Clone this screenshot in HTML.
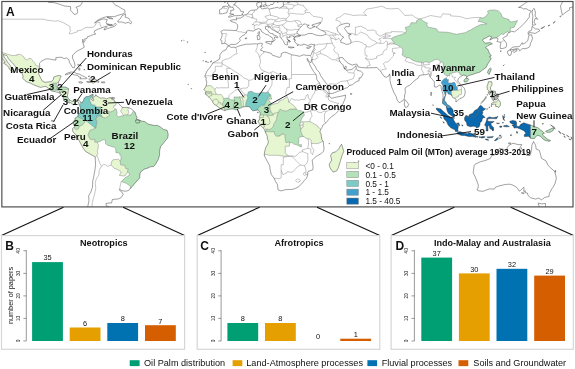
<!DOCTYPE html>
<html><head><meta charset="utf-8"><title>Oil palm figure</title>
<style>
html,body{margin:0;padding:0;background:#fff}
body{width:575px;height:369px;overflow:hidden}
svg{display:block}
text{font-family:"Liberation Sans", Arial, sans-serif;fill:#111}
</style></head><body>
<svg width="575" height="369" viewBox="0 0 575 369">
<rect width="575" height="369" fill="#fff"/>
<defs><clipPath id="mc"><rect x="1.85" y="1.5" width="571.15" height="205.4"/></clipPath></defs>
<g clip-path="url(#mc)">
<path fill="#e5f6d0" d="M-1.2 53L-0.2 55L1.5 57.7L3.5 60.1L5.2 62.2L3.5 63L6.2 64.9L8.9 67.3L9.3 69.2L11.8 71.2L13.6 72.7L14.6 71.6L12.8 69.8L11.3 67.3L9.7 64.7L7.6 62.2L6.2 59.7L4.1 57.1L3.5 54.4L6.8 55.6L8.2 58.3L10.3 61L12.4 62.8L14.4 65.3L16.5 67.7L19 70L21 72L22.5 74.5L23.1 76.5L22.5 78L24.5 80.2L27.2 82.1L30.3 83.1L33.6 84.8L37.1 86.2L40.6 87.4L43.9 86.6L45.9 86.4L48 88L50.1 89.9L50.1 89.9L50.1 88.4L51.1 86.7L53.7 86.7L51.7 84.2L52.6 84.2L52.6 83.1L56.4 83.1L56.4 83.1L57.3 82.7L58.5 81.7L58.5 81.7L59.8 80L60 78.2L61.2 76.1L59.5 75.5L56.7 75.9L53.8 77L53.2 79.8L51.3 81.7L48.4 81.9L45.1 82.3L42.4 81.1L41.2 79L39.6 75.9L38.5 73.5L38.7 69.4L39.8 66.5L39.8 66.5L35.9 65.5L35 63.2L33 61.2L31.1 58.5L28.8 58.5L27.4 60.1L24.7 58.9L23.9 56.9L20.6 54.4L17.1 54.4L17.1 55.4L11.3 55.4L3.5 52.8L-1.2 53ZM60.2 92.9L59.5 93.2L61.8 95L63.5 96.8L63.5 96.8L65.1 97L67 97.5L67.6 97.3L67.6 97.3L67.6 95L68 92.9L68.2 90.9L68.6 88.8L68.6 88.8L66.3 89.5L64.9 89.7L63.3 91.1L61.4 91.3L61.4 92.3L60.2 92.9ZM69.2 103.1L70.7 102.6L72.1 103.8L73.3 104.8L74.6 104.4L74.4 102.8L75.8 101.8L76.6 101.1L78.3 102.2L78.9 103.2L78.5 104.2L79.5 104.8L79.5 104.8L80.6 103.6L81 103L80.6 101.8L80.6 101.8L79.3 100.5L77.3 99.9L75.6 100.3L73.1 101.6L71.5 101.1L70.5 100.5L69.8 99.9L69.8 99.9L69.4 101.4L69.2 103.1ZM92.2 79.1L93.9 78.8L96 79.3L96.6 80.4L98.9 81.3L98.7 82.3L96.2 81.8L94.6 82.2L93.1 83.4L92.2 82.6L92.2 82.6L91.7 81.5L92.3 80.7L92.2 79.1ZM93.1 95.4L91.9 96.8L92.5 97.9L91.7 99.9L93.3 100.9L93.7 99.3L92.7 97.3L95.4 96L95.8 94.6L96.6 96L99.3 97.3L100.3 98.1L104 97.9L106.5 98.9L108.6 97.9L111.2 97.7L112.5 97.7L110.8 98.5L112.3 99.3L114.3 100.1L114.8 102L116.4 102.4L116.4 102.4L115.8 105.2L113.9 105.9L113.5 107.3L115 108.9L115 108.9L114.3 110.4L110.6 112L107.5 111.4L109.4 115.1L108.2 116.5L105.1 118L102.2 117.1L102.2 117.1L101.6 115.5L100.3 113.9L101.4 112.6L100.3 110.4L100.9 106.9L96.8 107.1L94.8 105.2L91.3 104.6L90.9 102.6L89.6 100.5L91.3 96.8L93.1 95.4ZM122.2 107.3L124.8 107.5L126.7 107.4L128.8 107.7L128.8 107.7L127.9 109.3L128.8 112.4L127.5 114.9L127.5 114.9L124.8 114.9L123.6 115.7L123.6 115.7L122 112.8L120.5 111.4L122 108.9L122.2 107.3ZM74.6 126.6L72.5 128.8L72.9 131.9L75.6 134.4L78.3 139.1L81 144.2L83 147.9L85.5 151.4L90.7 154.4L93.7 156.1L95.2 157.1L95.2 157.1L96.8 155.5L96.8 155.5L97.9 153.4L97.2 151.4L97.9 149.3L98.5 145.2L96.8 142.1L96.8 142.1L94.6 142.1L94.8 139.1L91.1 139.7L89.6 138.5L88 134.6L90 130.3L95.8 128.2L95.8 128.2L94.4 127.4L90.7 124.5L88.6 122.7L84.9 119.8L84.9 119.8L84.5 122.7L82.4 124.9L79.3 126.4L78.5 128.8L76.2 129.8L74.6 128.4L74.6 126.6ZM120.1 160.8L120.7 164.9L124.6 165.3L125.7 168.6L128.1 168.8L127.5 172.1L127.5 172.1L125.1 175.8L123.6 176L119.3 175.4L121.3 171.9L117.4 169.4L114.3 168.4L111 165.1L111 165.1L111.7 161.6L112.9 159.8L118.3 159.2L120.1 160.8ZM205.9 91.7L203.9 89.5L205.4 87.2L206 86.6L206 86.6L206.4 85.8L209.1 85.6L211.2 85.8L213.2 87.6L214.9 89.3L214.9 89.3L215.3 91.9L216.5 94.2L216.5 94.2L214.7 94.4L211.8 93.7L211.8 93.7L209.1 93.7L205.6 94.3L205.6 94.3L205.4 92.8L205.4 92.8L207.5 92.6L209.1 92.5L211.6 92.3L211.6 92.3L211.6 91.9L210.1 91.5L208.1 91.3L205.9 91.7ZM205.4 92.8L205.9 91.7L205.9 91.7L208.1 91.3L210.1 91.5L211.6 91.9L211.6 92.3L211.6 92.3L209.1 92.5L207.5 92.6L205.4 92.8ZM208.9 97.2L207.7 96L206.4 95L205.6 94.3L205.6 94.3L209.1 93.7L211.8 93.7L211.8 93.7L211.8 95.6L209.7 96L208.9 97.2ZM212.6 101L211.8 100.1L209.9 98.3L208.9 97.2L208.9 97.2L209.7 96L211.8 95.6L211.8 93.7L211.8 93.7L214.7 94.4L216.5 94.2L216.5 94.2L218.4 94.8L220.8 94.2L222.7 96.4L223.5 98.7L223.5 98.7L224.1 100.3L223.1 102.2L222.5 104L222.5 104L220.8 104.2L220.4 102.4L218.8 102.2L218.8 102.2L218.2 100.9L216.9 99.1L214.2 99.5L212.6 101ZM216.3 105.5L214.2 104.4L212.8 102.4L212.6 101L212.6 101L214.2 99.5L216.9 99.1L218.2 100.9L218.8 102.2L218.8 102.2L218 103.6L216.3 105.5ZM224.6 110.6L221.5 109.3L217.8 106.7L216.3 105.5L216.3 105.5L218 103.6L218.8 102.2L218.8 102.2L220.4 102.4L220.8 104.2L222.5 104L222.5 104L222.9 106.3L224.6 107.7L224.6 110.6ZM243.4 106.9L242.5 107.1L242.5 107.1L241.2 105.2L241.2 102.2L240.4 99.1L239.7 96.8L239.7 96.8L241.9 97L241.9 97L242.9 100.1L243.3 103.2L243.4 106.9ZM245.6 106.6L243.4 106.9L243.4 106.9L243.3 103.2L242.9 100.1L241.9 97L241.9 97L242.9 96.2L244.9 95.2L244.9 95.2L246 94.4L247.4 95.6L247.4 95.6L247.8 98.1L246.4 101.1L245.7 104.2L245.6 106.6ZM259.8 117.5L259.4 116.5L260.2 114.9L260.2 114.9L263.4 115.1L263.4 115.1L263.4 117.5L259.8 117.5ZM262.9 127.7L260.6 125.3L259 123.3L257.9 121L259.2 120.2L259.6 118.6L259.8 117.5L259.8 117.5L263.4 117.5L263.4 115.1L263.4 115.1L267.4 115.1L267.4 115.1L267.2 116.9L268.8 116.7L269.7 120.6L269.9 122.7L269 124.5L266.8 124.5L265.8 123.7L263.9 124.5L264.5 127L262.9 127.7ZM264.7 129.8L262.9 127.7L262.9 127.7L264.5 127L263.9 124.5L265.8 123.7L266.8 124.5L269 124.5L269.9 122.7L269.7 120.6L268.8 116.7L267.2 116.9L267.4 115.1L267.4 115.1L270.9 115.5L273.4 115.1L273.4 115.1L274 113.4L278.3 112.4L278.3 112.4L277.1 115.5L276.5 119.6L274 123.7L273 126.8L271.3 128.6L269.7 129.6L267 129.2L267 129.2L265.5 129L264.7 129.8ZM271.9 104.2L275 103.8L278.3 103L279.1 101.1L283.3 99.5L286.4 97.2L287.2 97.3L287.2 97.3L288.6 99.3L288.4 101.8L289.9 102.6L291.9 104.2L294.4 106.1L296.4 109.1L296.4 109.1L292.1 109.1L290.3 109.1L286.4 111.2L282.2 110.4L280.2 109.1L278.3 112.4L278.3 112.4L274 113.4L273.4 115.1L273.4 115.1L273 113.9L271.1 111.8L270.1 109.3L269.9 106.9L271.9 104.2ZM264.2 155L264.7 151.4L265.8 147.3L267.8 144.2L268.4 141.5L267.2 138L267.4 136.6L265.3 132L265.3 132L266.8 131.6L268.8 131.7L274.2 131.7L274.8 134.4L276.3 136.2L280 136L280.2 135L282.2 134.6L282.4 133.7L284.9 134.6L285.3 139.1L285.9 142.6L289.4 141.9L289.4 141.9L289.4 146.2L285.3 146.2L285.3 152.8L288.2 155.7L288.2 155.7L284.1 156.3L278.1 155.3L268.8 155.3L266.8 154.4L264.2 155ZM265.1 131.5L264.7 129.8L264.7 129.8L265.5 129L267 129.2L267 129.2L265.8 131.3L265.1 131.5ZM320.8 129.2L319.9 131.9L321 133.7L321.4 137L322 140.1L323.2 141.1L323.2 141.1L319.3 143L317.2 143.6L314.2 143.6L311.3 143.4L311.3 143.4L311.1 140.1L310 139.1L307.8 138.9L307.8 138.9L305.7 138L303.4 136.4L303.4 136.4L302.8 136.4L301 131.9L300.6 128.7L300.6 128.7L301.8 128.4L303.4 126.4L302.8 124.5L302.8 124.5L303.4 124.3L302.8 121.8L302.8 121.8L310 121.6L310 121.6L317.5 125.8L317.7 126.8L320.8 129.2ZM299.7 125.1L300.2 126.4L300.6 128.7L300.6 128.7L301.8 128.4L303.4 126.4L302.8 124.5L302.8 124.5L301.6 125.1L299.7 125.1ZM341.6 144.2L343.8 151.4L342 155.5L340.5 160.6L338.3 167.8L336.8 170.8L333.1 172.1L330 167.8L329.2 164.3L331.7 160.2L330.6 155.5L332.3 152.8L335.8 151.8L338.7 148.9L340.5 145.6L341.6 144.2ZM257.5 112L258.3 112L258.1 112.8L257.5 112.8L257.5 112ZM253.4 118.8L253.9 119L253.6 119.5L253.4 118.8ZM452 95.7L452.4 97L453.4 98.1L455.1 98.3L455.1 98.3L456.3 97.3L458.2 97L458.4 95.4L461.5 94.2L461.5 89.5L461.5 89.5L458.4 90.1L456.7 90.3L456.7 90.3L452.2 90.3L451.1 91.7L451.4 93.6L452 95.7ZM488.4 81.7L491.7 81.7L492.1 84.8L490.5 87.2L490.7 90.3L492.4 90.9L495.4 91.3L495.6 93.8L493.8 92.5L491.9 92.1L489.3 91.5L488.4 90.3L487.4 89.3L487 86.4L488 83.7L488.4 81.7ZM498.5 99.5L500.4 102.2L500.4 105.2L498.5 107.7L497.9 106.7L495.4 106.3L495.9 104.6L494 104L491.3 105.2L491.7 103.2L494 102L496.5 102L497.5 101.1L498.5 99.5ZM496.1 94L498.1 94L498.9 96.6L497.5 96.6L497.3 95.2L496.1 94ZM496.3 96.2L497.5 96.4L497.9 98.7L497.1 98.9L496.3 96.2ZM492.1 99.1L493.8 97.3L494.4 98.1L493.6 100.9L492.6 100.3L492.1 99.1ZM491.3 95.2L493.4 96L493.4 97L491.3 98.1L491.3 95.2ZM494.2 98.3L495.4 96.6L495.2 98.1L494.2 100.1L494.2 98.3ZM495 99.3L496.5 98.9L496.5 99.7L495.4 99.9L495 99.3ZM481.4 102.4L484.1 99.5L486 96.4L486.2 97.9L484.1 100.7L482.1 102.4L481.4 102.4ZM488 91.9L489.7 92.1L490.3 94.2L489.3 94.6L488 91.9ZM493.8 94L495.4 95L494.6 95.2L493.8 94ZM486.6 109.1L487.8 108.7L487.2 109.5L486.6 109.1ZM488.8 107.3L490.1 107.1L489.5 107.6L488.8 107.3ZM490.9 105.9L491.9 105.9L491.5 106.5L490.9 105.9ZM486.8 94.6L487.8 94.8L487.2 95.2L486.8 94.6ZM480.8 103.2L481.2 103.5L480.9 103.6L480.8 103.2ZM562.4 133.3L564.7 134.8L563.8 134.8L562.4 133.3ZM566.5 135.2L569.2 136.8L568 136.4L566.5 135.2ZM568.8 138.7L571.2 139.7L569.6 139.7L568.8 138.7ZM571 136.8L572.3 139.1L571.5 138.5L571 136.8ZM564 136L565.5 137.2L564.5 137.2L564 136Z"/>
<path fill="#b3e2b9" d="M56.4 83.1L52.6 83.1L52.6 84.2L51.7 84.2L53.7 86.7L51.1 86.7L50.1 88.4L50.1 89.9L50.1 89.9L51.9 91.1L54.4 91.4L54.4 91.4L54.8 90.7L55.9 90.1L55.9 90.1L56.2 89.1L58.3 87.4L58.3 87.4L57.5 87.4L56.9 87L56.9 87L56.2 87L56.4 83.1ZM58.3 87.4L56.2 89.1L55.9 90.1L55.9 90.1L57.7 90.9L58.7 91.1L59.3 91.3L59.1 92.3L59.1 92.3L60 92.1L60.2 92.9L60.2 92.9L61.4 92.3L61.4 91.3L63.3 91.1L64.9 89.7L66.3 89.5L68.6 88.8L68.6 88.8L67.4 88L65.7 87.1L62.8 87L59.8 87.1L58.3 87.4ZM63.5 96.8L63 98.5L64.7 99.9L65.3 99.1L67 100.3L67.8 102L68.4 102.4L69.2 103.1L69.2 103.1L69.4 101.4L69.8 99.9L69.8 99.9L68.6 98.7L67.6 97.3L67.6 97.3L67 97.5L65.1 97L63.5 96.8ZM77.7 116.5L75.2 118L75 119.6L73.3 121.6L73.3 124.3L75.2 124.7L75.4 125.1L74.6 126.6L74.6 126.6L74.6 128.4L76.2 129.8L78.5 128.8L79.3 126.4L82.4 124.9L84.5 122.7L84.9 119.8L84.9 119.8L82.4 119L80.3 118.2L77.7 116.5ZM133.5 111L134.9 112L136.2 115.7L137.2 117.3L136.2 119.2L139.9 120.2L141.1 121L144.8 121.6L148.1 124.1L150.4 124.6L154.5 125.5L157.6 125.4L160.7 127.2L163.4 129.4L167.1 130.3L168.2 134.4L167.7 138L165 141.1L163 143.8L160.7 146.2L159.7 150.3L159.5 155.5L158.2 159.6L155.7 163.9L153.7 166.5L150.4 166.8L147.3 168.2L144.2 169.2L141.1 171.5L139.9 173.9L139.7 177.8L137 180.9L134.1 184.2L132.1 186.8L130 188.7L130 188.7L130.4 186.6L128.8 185L125.7 183.1L124.6 182.7L121.3 181.5L121.3 181.5L125.1 177.8L129.2 175.4L129.4 173.3L127.5 172.1L127.5 172.1L128.1 168.8L125.7 168.6L124.6 165.3L120.7 164.9L120.1 160.8L120.1 160.8L120.9 159.6L121.1 156.5L119.9 155.1L119.7 153L116 152.8L115.6 148.3L114.3 147.3L110.6 146.2L107.5 145.2L105.5 143.6L105.5 140.1L103 139.7L98.9 142.1L96.8 142.1L96.8 142.1L94.6 142.1L94.8 139.1L91.1 139.7L89.6 138.5L88 134.6L90 130.3L95.8 128.2L95.8 128.2L97 121.9L95.8 118.6L97.2 117.5L96.2 116.1L99.9 115.9L102.2 117.1L102.2 117.1L105.1 118L108.2 116.5L109.4 115.1L107.5 111.4L110.6 112L114.3 110.4L115 108.9L115 108.9L116.4 109.3L116.6 110.6L117.2 112.4L116.6 114.9L118.5 116.9L121.5 115.9L123.6 115.7L123.6 115.7L124.8 114.9L127.5 114.9L127.5 114.9L131 115.1L133.5 111ZM233.6 109.1L231.8 108.9L227.6 109.6L224.6 110.6L224.6 110.6L224.6 107.7L222.9 106.3L222.5 104L222.5 104L223.1 102.2L224.1 100.3L223.5 98.7L223.5 98.7L226.6 98.1L228.7 98.3L228.7 98.3L230.7 99.7L234.4 100.1L234.4 100.1L234.8 102.8L233.4 105.7L234.2 108.1L233.6 109.1ZM242.5 107.1L241.4 107.8L239.6 108.3L235.9 109.9L233.6 109.1L233.6 109.1L234.2 108.1L233.4 105.7L234.8 102.8L234.4 100.1L234.4 100.1L234 97L238.6 97L239.7 96.8L239.7 96.8L240.4 99.1L241.2 102.2L241.2 105.2L242.5 107.1ZM260.2 114.9L260.2 113.2L259.6 111.6L258.3 110.4L257.5 110L257.5 110L258.3 107.7L260.2 106.3L261.6 105.2L264.3 105.2L265.8 102L267.2 99.1L268.4 97L270.1 96L269.3 94L269.3 94L270.9 94.8L271.1 97.5L271.9 99.1L268.8 99.1L268.6 99.9L271.9 104.2L271.9 104.2L269.9 106.9L270.1 109.3L271.1 111.8L273 113.9L273.4 115.1L273.4 115.1L270.9 115.5L267.4 115.1L267.4 115.1L263.4 115.1L263.4 115.1L260.2 114.9ZM265.3 132L265.1 131.5L265.1 131.5L265.8 131.3L267 129.2L267 129.2L269.7 129.6L271.3 128.6L273 126.8L274 123.7L276.5 119.6L277.1 115.5L278.3 112.4L278.3 112.4L280.2 109.1L282.2 110.4L286.4 111.2L290.3 109.1L292.1 109.1L296.4 109.1L296.4 109.1L298.5 110.8L300.8 110.4L303.4 112.4L303.4 112.4L304.5 115.1L302.8 117.1L301.6 118.6L301 120.8L301 122.5L301 122.5L300.2 123.1L299.7 125.1L299.7 125.1L300.2 126.4L300.6 128.7L300.6 128.7L301 131.9L302.8 136.4L303.4 136.4L303.4 136.4L299.5 137L298.5 138.7L298.9 140.1L298.5 143.8L299.7 145L301.4 144.6L301.4 147.1L298.7 145.8L296.6 144.8L293.6 144L292.1 142.6L290.3 143L289.4 141.9L289.4 141.9L285.9 142.6L285.3 139.1L284.9 134.6L282.4 133.7L282.2 134.6L280.2 135L280 136L276.3 136.2L274.8 134.4L274.2 131.7L268.8 131.7L266.8 131.6L265.3 132ZM462.5 75.5L463.5 75.1L466 75.5L466.6 77.8L467.6 76.1L470.3 75.1L473.8 74.1L475.9 73.3L480 72L483.1 69.6L486.2 67.3L487.2 64.9L489.3 61.6L491.3 58.3L489.3 56.9L491.3 56L489.3 53L487.8 49.3L485.6 47.8L487.8 45.6L492.4 43.8L489.9 42.5L485.1 43.3L482.7 40.5L483.1 39.2L486.2 37.8L489.3 36L491.7 36.8L489.7 40.1L493.4 38.2L496.1 37.8L496.1 37.8L499.6 35.5L501.4 33.9L503.7 34.5L504.3 33.5L507.6 31.7L509 32.7L509 32.7L510.1 31.5L510.5 27.8L514 27.4L517.5 20.6L513 21.8L509.9 21.8L509 19.6L502.7 17.5L500.6 13L498.5 11L494.4 9.9L489.3 10.3L487.2 11.6L488.6 13L485.1 17.1L482.7 18.1L480.4 17.5L480.4 17.5L478.1 21.4L481.8 22L487 23.9L480.2 24.7L474.2 27.8L470.5 30L468.7 30.8L465.2 32.7L456.3 34.3L448.1 32.3L439.8 31.9L438.4 31.9L436.5 28.8L427.5 26.9L426.8 24.7L427.5 23.2L422.9 21L420.9 18.7L420.9 18.7L419.8 18.9L419.8 18.9L416.7 20.4L416.5 22.8L411 22.8L409.5 26.3L405.2 27.4L406.4 31L405.2 33.1L405.2 33.1L401.7 34.5L398.2 35.5L394.5 36.8L392 38L391.6 38.8L391.6 38.8L392 40.5L394.5 42.7L394.3 43.3L394.3 43.3L393.7 43.8L393.7 43.8L396.1 44.4L400.3 46.8L400.3 46.8L402.7 49.3L402.7 53L402.1 55L403.4 56L406.9 57.7L406.9 57.7L409.3 57.9L413 60.4L416.7 61.8L421.5 62.4L421.5 62.4L422.9 62.2L423.1 63.6L423.1 63.6L424.8 61.8L428.1 62.2L428.7 62.6L428.7 62.6L431.6 61.6L434.7 59.7L437.8 59.3L440.4 61.6L440.4 61.6L443.3 63L443.3 66.5L441.3 68.8L441.1 70.6L443.7 72L444.4 74.3L446.4 75.5L448.4 75.4L448.4 75.4L449.7 76.1L449.5 73.7L450.4 73.6L450.4 73.6L452.8 72.9L456.9 71.8L459.8 72.9L459.8 74.5L462.5 75.5ZM463.9 80.2L465.6 78.6L468 78.4L468.7 79.6L466.6 82.1L464.1 81.7L463.9 80.2ZM490.3 67.9L491.3 68.8L490.1 72L489.1 74.5L487.4 72.4L488.8 69.4L490.3 67.9ZM530.5 124.9L533.5 126.4L537.7 127.6L540.3 129.8L543.2 131.9L544.5 133.3L542.8 133.5L542.6 135L545.5 137.6L548 139.5L550.6 140.7L549 141.3L544.9 140.3L542.8 138.9L540.8 136.4L537.7 135.4L535.6 136.6L534.6 138.5L530.5 138.3L530.5 138.3L530.5 124.9ZM545.5 131.3L549 129.8L552.1 128.2L553.7 128.4L553.1 130.5L550 132.3L546.9 132.3L545.5 131.3ZM550.6 124.9L554.2 127L555.2 129.2L554.4 128.6L552.7 126.8L550.6 124.9ZM558.7 130.9L561.2 133.1L560.5 133.7L558.7 131.7L558.7 130.9ZM542 123.7L543.6 123.7L542.8 124.1L542 123.7Z"/>
<path fill="#7bccc5" d="M80.6 101.8L81.8 103.2L83.4 100.5L84.3 98.1L85.9 96.8L88.6 96.4L91.3 94.8L93.1 94.2L93.1 95.4L93.1 95.4L91.3 96.8L89.6 100.5L90.9 102.6L91.3 104.6L94.8 105.2L96.8 107.1L100.9 106.9L100.3 110.4L101.4 112.6L100.3 113.9L101.6 115.5L102.2 117.1L102.2 117.1L99.9 115.9L96.2 116.1L97.2 117.5L95.8 118.6L97 121.9L95.8 128.2L95.8 128.2L94.4 127.4L90.7 124.5L88.6 122.7L84.9 119.8L84.9 119.8L82.4 119L80.3 118.2L77.7 116.5L77.7 116.5L78.3 114.3L81 111.8L80.6 111.4L80.3 107.3L79.5 104.8L79.5 104.8L80.6 103.6L81 103L80.6 101.8ZM257.5 110L255.4 110.4L252.6 110.8L251.1 108.9L249.3 106.7L245.6 106.6L245.6 106.6L245.7 104.2L246.4 101.1L247.8 98.1L247.4 95.6L247.4 95.6L248.2 91.9L251.3 91.1L254.4 92.9L258.5 93.4L261.6 92.3L265.8 92.7L268 91.5L268 91.5L269.3 94L269.3 94L270.1 96L268.4 97L267.2 99.1L265.8 102L264.3 105.2L261.6 105.2L260.2 106.3L258.3 107.7L257.5 110Z"/>
<path fill="#43a0cc" d="M442.9 99.1L442.5 101.1L442.5 103.4L445 105.2L446.2 106.4L446.2 106.4L448.1 107.7L449.7 107.7L450.7 106.9L450.7 106.9L449.1 105.5L447 104.6L446 102.2L444.4 100.5L444.6 98.1L445.6 95.4L446 92.1L447.9 92.1L448.1 93.8L450.5 94.6L452 95.7L452 95.7L451.4 93.6L451.1 91.7L452.2 90.3L456.7 90.3L456.7 90.3L457.3 90.1L457.5 87.6L455.9 86L455.7 83.9L454.2 82.1L451.6 82.9L450.1 82.9L448.1 82.9L448.5 79.6L447.2 79.6L446.2 77.9L446.2 77.9L443.9 79L441.5 81.7L441.3 83.1L443.1 86.2L442.3 88.4L444.1 92.5L445.2 95.4L443.5 98.3L442.9 99.1Z"/>
<path fill="#0868b0" d="M446.2 106.4L446.6 108.5L447.4 111.4L448.7 113.7L450.5 115.1L453.2 116.9L454.7 116.8L454 114.5L453 112.2L453 109.8L450.7 106.9L450.7 106.9L449.7 107.7L448.1 107.7L446.2 106.4ZM465.9 115.4L468.7 116.5L469.3 114.7L472.8 113.2L474.8 110.4L477.7 108.9L479 107.1L480.4 105.2L482.5 106.7L483.1 107.9L485.6 108.7L483.7 110.6L482.3 111L482.3 111L477.9 110.8L478.1 112.6L476.9 113.9L476.5 115.7L474.4 116.9L471.1 116.7L468.7 117.5L466.6 117.1L465.9 115.4ZM436.3 108.1L440.9 108.9L442.5 110.8L445.8 113.4L447.6 115.3L450.7 117.5L453 118.6L453.8 120.2L455.3 122.7L458.4 125.8L457.9 128.8L457.9 131.6L455.5 131.5L454.9 129.8L450.7 127.8L448.1 125.1L446.6 121.6L444.1 119L443.3 116.1L441.1 114.3L438.8 112L436.5 109.8L436.3 108.1ZM456.7 133.5L458.4 131.7L460.4 131.8L463.5 132.9L467.6 133.7L468.7 132.7L472.2 133.7L472.4 134.8L475.7 135.4L475.9 137.2L472.8 136.6L468.7 136.5L464.5 135.4L461.5 135.4L459.2 134.6L456.7 133.5ZM482.3 111L482.9 112.8L482.1 114.5L483.1 115.5L485.1 117.5L482.7 118L482.1 119.6L481.8 121.2L480 122.7L480 124.7L479 127L476.3 128L475.9 126.6L472.8 126.2L470.3 126.8L467 125.5L466.6 122.7L464.7 120.2L464.5 118L465.2 116.5L465.9 115.4L465.9 115.4L466.6 117.1L468.7 117.5L471.1 116.7L474.4 116.9L476.5 115.7L476.9 113.9L478.1 112.6L477.9 110.8L482.3 111ZM489.1 116.9L493 117.8L496.5 117.1L497.9 116.3L496.5 118.8L493.4 118.6L490.3 118.6L487.6 119L487.4 121L489.9 121.4L493.2 121.4L494.2 121.6L491.9 122.9L490.5 123.5L492.1 126.2L493.8 127.8L492.6 130.7L491.3 129L490.3 129L489.3 126.6L489.1 124.9L487.8 126.2L488 130.9L486.2 130.9L486.2 126.8L484.7 125.1L485.8 122.5L486.8 119.8L486.8 118.4L489.1 116.9ZM530.5 124.9L526.3 123.7L523.9 122.7L520.8 124.3L519.1 126.6L516.7 126.4L516.5 122.5L516 121.2L513 120.4L509.9 121.2L509.9 122.5L512.3 124.1L515 124.3L511.9 125.3L513.6 126.4L514 128L517.1 127.8L520.2 129L524.3 130.9L525.9 133.5L524.3 134.6L524.3 136.4L525.9 136.6L528.4 136.2L530.5 138.3L530.5 138.3L530.5 124.9ZM497.5 137.8L496.5 138.5L494.4 140.7L495.4 140.7L497.5 139.5L497.7 139.1ZM475.9 136.4L478.1 136.4L477.3 137.5L475.9 136.4ZM479 136.8L480.4 136.8L479.8 137.8L479 136.8ZM480.6 137L483.1 136.4L485.1 136.8L484.1 137.7L481 138L480.6 137ZM486.8 137L490.3 136.8L493.4 136.6L492.4 137.6L488.2 137.8L486.8 137ZM485.1 139.1L487.8 139.3L488.8 140.3L486.4 139.9L485.1 139.1ZM502.7 115.5L503.7 116.9L505.1 116.7L503.7 118.4L504.7 120.6L503.3 119.6L502.9 117.5L502.7 115.5ZM503.7 125.8L506.8 125.3L509.4 126.6L506.8 126.8L503.7 126.6L503.7 125.8ZM499.6 126.2L501.6 126L502 127L500 127.4L499.6 126.2ZM456.7 123.1L458.8 122.9L459.8 125.8L458.4 125.1L456.7 123.1ZM461.7 124.9L462.9 125.1L462.5 126.2L461.7 124.9ZM440 116.7L441.5 117.8L441.7 118.4L440.4 117.5L440 116.7ZM443.1 121.6L444.4 123.1L443.7 123.1L443.1 121.6ZM472.2 133.9L474.8 133.7L474.8 134.4L472.4 134.4L472.2 133.9ZM516.5 131.5L517.7 131.9L517.1 133.5L516.5 132.5L516.5 131.5ZM510.3 135L511.3 134.4L511.1 136L510.3 135ZM519.1 121.2L520.8 121.6L520.2 122.1L519.1 121.2ZM496.5 123.1L499.6 123.3L497.5 123.7L496.5 123.1ZM499.1 135.4L501.2 135.2L500.4 135.9L499.1 135.4ZM504.1 114.5L504.9 115.1L504.3 115.5L504.1 114.5ZM502.2 122.5L503.7 122.7L502.9 123.1L502.2 122.5ZM492.6 128.8L493.8 129.4L493 131.1L492.6 128.8Z"/>
<path fill="none" stroke="#6e6e6e" stroke-width=".4" stroke-linejoin="round" d="M-1.2 53L3.5 52.8L11.3 55.4L17.1 55.4L17.1 54.4L20.6 54.4L23.9 56.9L24.7 58.9L27.4 60.1L28.8 58.5L31.1 58.5L33 61.2L35 63.2L35.9 65.5L39.8 66.5M50.1 89.9L50.1 88.4L51.1 86.7L53.7 86.7L51.7 84.2L52.6 84.2L52.6 83.1L56.4 83.1M56.4 83.1L57.3 82.7L58.5 81.7M56.4 83.1L56.2 87L56.9 87M58.3 87.4L56.2 89.1L55.9 90.1M55.9 90.1L54.8 90.7L54.4 91.4M55.9 90.1L57.7 90.9L58.7 91.1L59.3 91.3L59.1 92.3M60.2 92.9L61.4 92.3L61.4 91.3L63.3 91.1L64.9 89.7L66.3 89.5L68.6 88.8M63.5 96.8L65.1 97L67 97.5L67.6 97.3M69.2 103.1L69.4 101.4L69.8 99.9M79.5 104.8L80.6 103.6L81 103L80.6 101.8M-13.4 19.2L43.9 19.2L45.1 19.8L50.1 20.6L55.4 21.2L57.9 20.6L65.3 23.5L65.9 24.4L67.8 25.1L70 26.7L70.3 31.5L69 33.5L70 34.1L77.3 31.9L77.3 30.6L81.8 30.2L82.6 29.2L86.1 27.4L92.7 27.4L95.2 25.5L95.8 23.9L97.4 22.4L99.9 22.6L100.3 25.9L101.6 26.9L102 27.8M92.2 79.1L92.3 80.7L91.7 81.5L92.2 82.6M93.1 95.4L91.3 96.8L89.6 100.5L90.9 102.6L91.3 104.6L94.8 105.2L96.8 107.1L100.9 106.9L100.3 110.4L101.4 112.6L100.3 113.9L101.6 115.5L102.2 117.1M102.2 117.1L99.9 115.9L96.2 116.1L97.2 117.5L95.8 118.6L97 121.9L95.8 128.2M95.8 128.2L94.4 127.4L90.7 124.5L88.6 122.7L84.9 119.8M84.9 119.8L82.4 119L80.3 118.2L77.7 116.5M84.9 119.8L84.5 122.7L82.4 124.9L79.3 126.4L78.5 128.8L76.2 129.8L74.6 128.4L74.6 126.6M95.8 128.2L90 130.3L88 134.6L89.6 138.5L91.1 139.7L94.8 139.1L94.6 142.1L96.8 142.1M96.8 142.1L98.5 145.2L97.9 149.3L97.2 151.4L97.9 153.4L96.8 155.5M96.8 155.5L95.2 157.1M96.8 142.1L98.9 142.1L103 139.7L105.5 140.1L105.5 143.6L107.5 145.2L110.6 146.2L114.3 147.3L115.6 148.3L116 152.8L119.7 153L119.9 155.1L121.1 156.5L120.9 159.6L120.1 160.8M120.1 160.8L118.3 159.2L112.9 159.8L111.7 161.6L111 165.1M111 165.1L107.5 166.3L105.7 164.9L103.6 164.3L101.6 166.3M101.6 166.3L99.9 163.3L98.9 160.6L98.3 158.5L96.8 155.5M120.1 160.8L120.7 164.9L124.6 165.3L125.7 168.6L128.1 168.8L127.5 172.1M127.5 172.1L125.1 175.8L123.6 176L119.3 175.4L121.3 171.9L117.4 169.4L114.3 168.4L111 165.1M127.5 172.1L129.4 173.3L129.2 175.4L125.1 177.8L121.3 181.5M121.3 181.5L124.6 182.7L125.7 183.1L128.8 185L130.4 186.6L130 188.7M121.3 181.5L120.1 186.2L119.7 189.1M101.6 166.3L99.3 169.8L98.9 174.9L96.2 179L95.2 183.1L95.8 187.9L94.8 193.4L93.3 198.5L92.1 203.6L92.1 210.8M102.2 117.1L105.1 118L108.2 116.5L109.4 115.1L107.5 111.4L110.6 112L114.3 110.4L115 108.9M115 108.9L113.5 107.3L113.9 105.9L115.8 105.2L116.4 102.4M115 108.9L116.4 109.3L116.6 110.6L117.2 112.4L116.6 114.9L118.5 116.9L121.5 115.9L123.6 115.7M123.6 115.7L122 112.8L120.5 111.4L122 108.9L122.2 107.3M123.6 115.7L124.8 114.9L127.5 114.9M127.5 114.9L128.8 112.4L127.9 109.3L128.8 107.7M127.5 114.9L131 115.1L133.5 111M235.5 47.6L236.5 49.5L236.5 52.2L237.3 53.6L233.8 54.8L232.4 56.3L228.7 58.7L225.6 59.3L222.1 60.8L222.1 62.9M222.1 62.9L212.8 62.9M222.1 62.9L222.1 63.6M222.1 63.6L222.1 66.3L215.3 66.3L215.3 71.5L213.2 72.4L213.2 75.8L204.9 75.8M222.1 63.6L230.1 68.3M230.1 68.3L226.6 68.3L228.5 85.8L228.7 87.8L220.8 87.8L218 88L216.3 87.6L214.9 89.3M214.9 89.3L213.2 87.6L211.2 85.8L209.1 85.6L206.4 85.8L206 86.6M214.9 89.3L215.3 91.9L216.5 94.2M216.5 94.2L214.7 94.4L211.8 93.7M211.8 93.7L209.1 93.7L205.6 94.3M205.9 91.7L208.1 91.3L210.1 91.5L211.6 91.9L211.6 92.3M211.6 92.3L209.1 92.5L207.5 92.6L205.4 92.8M211.8 93.7L211.8 95.6L209.7 96L208.9 97.2M216.5 94.2L218.4 94.8L220.8 94.2L222.7 96.4L223.5 98.7M212.6 101L214.2 99.5L216.9 99.1L218.2 100.9L218.8 102.2M218.8 102.2L220.4 102.4L220.8 104.2L222.5 104M222.5 104L223.1 102.2L224.1 100.3L223.5 98.7M218.8 102.2L218 103.6L216.3 105.5M222.5 104L222.9 106.3L224.6 107.7L224.6 110.6M223.5 98.7L226.6 98.1L228.7 98.3M228.7 98.3L230.7 99.7L234.4 100.1M234.4 100.1L234.8 102.8L233.4 105.7L234.2 108.1L233.6 109.1M234.4 100.1L234 97L238.6 97L239.7 96.8M239.7 96.8L240.4 99.1L241.2 102.2L241.2 105.2L242.5 107.1M239.7 96.8L241.9 97M241.9 97L242.9 100.1L243.3 103.2L243.4 106.9M241.9 97L242.9 96.2L244.9 95.2M244.9 95.2L246 94.4L247.4 95.6M247.4 95.6L247.8 98.1L246.4 101.1L245.7 104.2L245.6 106.6M247.4 95.6L248.2 91.9L251.3 91.1L254.4 92.9L258.5 93.4L261.6 92.3L265.8 92.7L268 91.5M268 91.5L269.3 94M269.3 94L270.1 96L268.4 97L267.2 99.1L265.8 102L264.3 105.2L261.6 105.2L260.2 106.3L258.3 107.7L257.5 110M269.3 94L270.9 94.8L271.1 97.5L271.9 99.1L268.8 99.1L268.6 99.9L271.9 104.2M271.9 104.2L269.9 106.9L270.1 109.3L271.1 111.8L273 113.9L273.4 115.1M273.4 115.1L270.9 115.5L267.4 115.1M267.4 115.1L263.4 115.1M263.4 115.1L260.2 114.9M263.4 115.1L263.4 117.5L259.8 117.5M267.4 115.1L267.2 116.9L268.8 116.7L269.7 120.6L269.9 122.7L269 124.5L266.8 124.5L265.8 123.7L263.9 124.5L264.5 127L262.9 127.7M273.4 115.1L274 113.4L278.3 112.4M278.3 112.4L277.1 115.5L276.5 119.6L274 123.7L273 126.8L271.3 128.6L269.7 129.6L267 129.2M267 129.2L265.5 129L264.7 129.8M267 129.2L265.8 131.3L265.1 131.5M271.9 104.2L275 103.8L278.3 103L279.1 101.1L283.3 99.5L286.4 97.2L287.2 97.3M287.2 97.3L288.6 99.3L288.4 101.8L289.9 102.6L291.9 104.2L294.4 106.1L296.4 109.1M296.4 109.1L292.1 109.1L290.3 109.1L286.4 111.2L282.2 110.4L280.2 109.1L278.3 112.4M296.4 109.1L298.5 110.8L300.8 110.4L303.4 112.4M303.4 112.4L304.5 115.1L302.8 117.1L301.6 118.6L301 120.8L301 122.5M301 122.5L300.2 123.1L299.7 125.1M299.7 125.1L300.2 126.4L300.6 128.7M300.6 128.7L301 131.9L302.8 136.4L303.4 136.4M303.4 136.4L299.5 137L298.5 138.7L298.9 140.1L298.5 143.8L299.7 145L301.4 144.6L301.4 147.1L298.7 145.8L296.6 144.8L293.6 144L292.1 142.6L290.3 143L289.4 141.9M289.4 141.9L285.9 142.6L285.3 139.1L284.9 134.6L282.4 133.7L282.2 134.6L280.2 135L280 136L276.3 136.2L274.8 134.4L274.2 131.7L268.8 131.7L266.8 131.6L265.3 132M289.4 141.9L289.4 146.2L285.3 146.2L285.3 152.8L288.2 155.7M288.2 155.7L284.1 156.3L278.1 155.3L268.8 155.3L266.8 154.4L264.2 155M288.2 155.7L292.1 156.1M292.1 156.1L290.5 156.5L288 156.5L283.3 157.1L283.3 164.7L281.2 164.7L281.2 170.4M281.2 170.4L281.2 177.8L279.1 178.8L276.1 178.4L274 178.2M281.2 170.4L282.8 174.5L286.4 173.3L287.4 171.5L290.5 172.3L292.5 172.1L295.2 169.4L297.5 166.8L300.6 165.1M300.6 165.1L297.1 161.6L294 158.5L292.1 156.1M292.1 156.1L295.6 156.3L299.5 152.4L302.6 151.6M302.6 151.6L302.2 149.9L308.4 148.3M308.4 148.3L307.8 147.3L308.4 145.2L308.6 141.7L307.8 138.9M307.8 138.9L305.7 138L303.4 136.4M307.8 138.9L310 139.1L311.1 140.1L311.3 143.4M311.3 143.4L314.2 143.6L317.2 143.6L319.3 143L323.2 141.1M311.3 143.4L311.9 147.3L314 150.1L312.7 153.8L312.7 154.7L310.7 152.4L310.9 149.1L308.4 148.3M302.6 151.6L304.5 152.4L308 153.8L307.6 156.5L308 160.2L306.9 163.3L304.5 165.5M304.5 165.5L300.6 165.1M304.5 165.5L305.9 169.8L305.8 172.8M305.8 172.8L306.1 174.6L304.5 175.6L303.4 174.3L303.9 172.7L305.8 172.8M306.1 174.6L307.8 174.6M295.6 180.3L297.7 178.8L300.4 180.1L299.9 181.7L297.9 182.3L296.4 181.5L295.6 180.3M320.8 129.2L317.7 126.8L317.5 125.8L310 121.6M310 121.6L302.8 121.8M302.8 121.8L303.4 124.3L302.8 124.5M302.8 124.5L303.4 126.4L301.8 128.4L300.6 128.7M302.8 124.5L301.6 125.1L299.7 125.1M301 122.5L302.8 121.8M310 121.6L310 119.2L311.1 117.5L312.1 116.1L310.9 112.2L310 111M310 111L308 111.8L305.9 112.2L303.4 112.4M310 111L314 110.2M314 110.2L316 110.6L318.5 112.2L321.4 112.6L324 111L326.3 111.5M326.3 111.5L324.5 113.9L324.5 119.6L324.5 121.4L325.7 123.1M326.3 111.5L328.6 110.2L332.7 109.3L338.9 103.2L336.8 103.2L330.6 101.1L328.6 99.9L328.2 97M328.2 97L329.1 96.1M328.2 97L326.1 97L326.1 95.6L327.3 94.1M327.3 94.1L328.8 93.6M327.3 94.1L324.5 91.9L322.4 89.9L320.3 89.7L318.1 89.3L317.2 90.5L315.2 90.3M315.2 90.3L315.2 88.4L316.2 84.8L319.3 82.7M315.2 90.3L314.4 93.6L312.3 95.4L311.9 97.5L310.2 100.1M310.2 100.1L310 102.2L308 103.2L309 103.8L311.1 105.5L312.7 108.5L314 110.2M310.2 100.1L308.4 98.1L308.2 94.6L306.7 95L305.9 97L304.9 99.5L300.8 99.5L299.3 100.3L297.5 99.9L294.8 100.1L291.5 98.5L289.4 101.8L288.4 101.8M287.2 97.3L285.7 93.6L285.9 91.9L286.4 90.7L287.2 87.6L289.4 87.4L289.4 79.6M289.4 79.6L289.4 78.6L291.5 78.6L291.5 74.5M291.5 74.5L316 74.5M291.5 74.5L291.5 59.7L290.9 57.7L291.7 54.8M289.4 79.6L273 71.5L270.9 72.4M270.9 72.4L269.3 73.3L264.7 71.4M264.7 71.4L261.2 69.4L259.4 65.9L260.4 62.6L260.4 60.1L259.6 57.7M259.6 57.7L261.2 54.6L263.7 53L263.7 51.6M259.6 57.7L258.5 53.8L255.7 51.3L257.1 47.4L257.7 44M264.7 71.4L255.4 77L251.9 79.8L248.8 80.3M248.8 80.3L246.8 79L243.7 78L242.4 76.3L230.1 68.3M248.8 80.3L248.7 85.8L247.2 88L242.9 88.2L240.4 88.8M240.4 88.8L237.9 89.3L234.8 90.5L233.2 92.3L230.9 93.6L229.1 95.4L228.7 98.3M240.4 88.8L241.9 91.7L244.3 93.6L244.9 95.2M270.9 72.4L271.9 76.5L272.1 81.7L271.9 85L268 91.5M227.2 8.7L225 8.7L223.3 7.9L225 6.9M224.8 43.3L224.6 41.7L225.6 41.3L225 38.6L225.8 37.2L226 35.5L227.2 34.3L226.4 33.6L223.1 33.7L221.9 33.7M236.3 30.6L238.6 31.7L241.4 31.9L243.5 32.5L246.6 32.7M245.3 14.8L246.6 16.1L248.7 16.7L249.9 17.1L251.9 18M251.9 18L253.2 18.1M253.2 18.1L255.4 18.9L256.9 19.2L255.7 22M255.7 22L254.4 22.4L252.6 24.1L252.4 24.9L254 24.5L254.4 25.5M254.4 25.5L254.2 27.1L254.4 28.8L255.4 29.8M254.4 25.5L257.3 24.5L258.5 25.5L259.6 24.5L261.5 23.6M261.5 23.6L259.8 23L259.8 22.2M259.8 22.2L257.7 21.8L255.7 22M259.8 22.2L261.6 22.4L265.1 22L266.8 22.2L266.6 20.8L268.4 19.7M261.5 23.6L265.1 23.2L265.5 23.9L268.2 24.3M268.2 24.3L270.9 24.1L273.2 23.6M273.2 23.6L274 22.4L275.2 21.2M275.2 21.2L274.9 20M274.9 20L270.9 19.2L268.4 19.7M268.4 19.7L265.8 17.7L264.9 16.5L269.5 15L270.5 15.4M270.5 15.4L270.3 13L269.3 11L269.3 9.1M258.1 7.1L260.4 7.3M254.4 10.1L254.4 12L252.4 13.4L252.4 15.6M252.4 15.6L252.8 16.9L253.2 18.1M247 14.2L249.3 14.1L251.9 14.7L252.4 15.6M251.9 18L252.2 16.9L252.8 16.9M270.5 15.4L273.6 15.9L274.8 16.5L276.5 16.5L278.8 18.1M278.8 18.1L280.8 18.7L283.1 18.4L286.5 18.9M286.5 18.9L286.8 17.9L289.4 15.9L288.6 14M288.6 14L287.8 12.4L289.2 11.6L288.4 9M288.4 9L287 8.2M287 8.2L280.4 8M287 8.2L286.8 7L283.9 6.3L283.3 6.2M288.4 9L292.5 8.5L293.1 7.1L294.8 5.5M294.8 5.5L291.5 4.4L287.2 4L283.4 4.7M294.8 5.5L298.1 4.5M290.3 0.9L292.1 0.7L294.6 1.7L296.3 1.7M288.6 14L291.5 13.2L296.6 14L299.7 14L302.8 14.4L305.5 12.8M274.9 20L277.1 19.2L278.8 18.1M275.2 21.2L278.7 21.6L281.2 20.8L284.3 20.2L285.6 20.4M285.6 20.4L286.5 18.9M285.6 20.4L287.2 21.2M287.2 21.2L284.3 23.9L281.8 25M281.8 25L278.9 25.5M278.9 25.5L276.1 25.5L274 24.3L273.2 23.6M274 24.3L272.1 24.9L271.5 26.3L269.9 26.3L268 26.3M268.2 24.3L267.8 25.3L268.2 25.9M278.9 25.5L279.3 26.9L279.1 27.6M279.1 27.6L275 26.9L272.5 26.9L272.5 28L273.6 29.4L275.6 30.8L276.3 31.6L278 32.4M279.1 27.6L280 28.8L279.6 30.4M279.6 30.4L278.5 31L278 32.5M279.6 30.4L281.8 31.8L281.4 32.3M281.4 32.3L280 33.8M281.4 32.3L282.4 33.7M282.4 33.7L284.5 33L286.1 32.9M286.1 32.9L287.4 31L286.1 29.4L286.8 29M286.8 29L284.1 27.8L284.3 26.9L281.8 25M286.8 29L287.4 29.8L292.5 30.1L295.6 29.2L298.9 29.9M287.2 21.2L291.3 21.7L294.8 20.7M294.8 20.7L297.9 24.3L298.1 26.4M298.1 26.4L301 26.9M294.8 20.7L297.7 20.4L300.2 21.4L301.8 24.5L299.5 24.5L298.1 26.4M282.4 33.7L282.2 34.9L283.3 35.9M283.3 35.9L282.6 37L281.2 38.2M283.3 35.9L287.3 34.8M287.3 34.8L286.1 32.9M287.3 34.8L290.5 34.5L294.3 34.1M294.3 34.1L294.8 34.9L293.6 36M294.3 34.1L296.6 33.5L297.7 33.5M318.7 23L322 21.4L322.4 17.9L318.3 17.1L313.1 16.3L310.5 13.6L309.6 12.3L305.5 12.8M305.5 12.8L304.9 10.5L307.4 9.9L303.9 6.9L303.7 5.6L298.1 4.5M298.1 4.5L297.1 2.1L296.3 1.7M296.3 1.7L296.6 -0.3L297.7 -2.4M322.4 30.6L327.6 31L330.6 32.3L335.6 33.7M335.6 33.7L338.5 35.1L339.9 33.9M341.4 24.5L339.9 21.6L336.8 20.2L335.8 20.2L336.8 18.1L339.9 17.1L344.6 13.6L350.2 14.6L353.3 15.5L360.5 15L366.7 15.5L363.6 13L366.7 9.1L373.9 7.9L382.1 6.2L386.3 8.5L391.4 8.9L398 8.3L400.5 10.5L404.8 15.5L412 15L416.1 17.9L419.8 18.9M420.9 18.7L424.8 17.5L430.6 15.5L440.9 17.3L442.5 13.8L450.5 14.4L450.7 15.9L459.8 16.5L466.6 18.7L472.8 17.7L480.4 17.5M325.5 34.5L329.6 35.3M329.6 35.3L330 37.4L332.3 38.2M332.3 38.2L330.6 38.8L331.5 41.1L332.3 43.3M332.3 43.3L327.3 43.5M327.3 43.5L322.4 44.2L318.3 44.2L315.6 45.2L314.6 46.1L314 46M329.6 35.3L332.7 34.9M332.7 34.9L336 35.3L335.6 33.7M332.7 34.9L333.9 36.8L335.8 38.6L335.8 39.9M332.3 38.2L335.8 39.9L338.9 38.2L339.5 39.7L340.7 40.9M332.3 43.3L333.5 45.8L335.2 47.4L333.7 49.3L334.8 52L338.3 54L338.3 56L339.9 58.2M327.3 43.5L324.9 48.3L319.9 51.1M319.9 51.1L320.8 53.6M320.8 53.6L326.5 55.8L332.1 59.7L335.8 59.9M335.8 59.9L337.6 57.9L338.9 58.3M335.8 59.9L338.3 61.2L339.9 61.4M319.9 51.1L315.8 53.4L313.7 52.6M314 48.6L315.4 49.5L313.7 51.3M312.3 51.7L313.7 51.3L313.7 52.6M313.7 52.6L313.2 54L313.1 55.6L312.1 59M311.9 59.1L310.5 55.4M312.1 59.4L314.4 59.7L317.2 58.1L318.3 57.1L316.2 55L320.8 53.6M328.2 86L329.2 83.9L331.7 83.9L336.2 84.3L340.9 81.5L347.1 80.7M347.1 80.7L353.3 78.6L354.7 74.5L353.7 73.1M353.7 73.1L348.4 72.6L346.3 70.2M353.7 73.1L354.9 70L356.2 68.6M349.4 85.5L347.1 80.7M500.8 42.3L502.7 41.1L504.5 40.5M351 43L354.3 41.5L358 41.3L362.2 42.7L364.6 44.6L366.1 44.6L366.1 46.6M366.1 46.6L364.8 49.3L365.2 55L367.3 55.8L365.4 58.4M365.4 58.4L369.4 61.8L369.4 63.8L370.4 65.1L367.5 65.9L366.9 67.9M365.4 58.4L368.8 59.3L371.8 59.3L376.6 58.3L376.6 56.3L379.7 55.2L382.8 54.2L383.2 52L384.2 50.5L386.3 49.7L387.5 46.4L386.7 45.4L389.4 44.2L393.7 43.8M366.1 46.6L369.8 47L372.9 45.2L377 43M377 43L379.7 43.3M379.7 43.3L382.8 43.5L384.6 42.5L386.1 40.9L387.5 41.9L387.3 44.4L391 42.8L394.3 43.3M394.3 43.3L393.7 43.8M377 43L376 41.7L371.8 39.8L368.8 37.6L367.5 35.1L363.6 33.1L360.5 32.1L357.4 34.9L355.4 34.9M355.4 34.9L352.7 33.5L347.9 33.3M355.4 34.9L355.4 27.4L360.7 26.1L365.7 28.6L367.7 30.4L373.7 30L376.2 31.5L376 33.5L380.1 36.2L385.2 33.5L386.3 33M386.3 33L391.4 32.7L391.4 31.5L395.9 31.7L402.7 31.9L405.2 33.1M386.3 33L385.2 34.5L388.3 35.1L390.6 36L388.3 36.8L385.2 37.2M385.2 37.2L383.2 38.4L387.3 38.4L391.6 38.8M385.2 37.2L385.6 35.5L382.1 37.2L381.1 38.6L378.8 39L380.9 41.3L379.7 43.3M380.5 71L381.7 69.8L386.5 69L384.6 66.9L384.4 65.3L383.2 63.8L385.2 62.2L388.3 61.8L390.4 59.1L393.5 56L393.5 53L395.3 53.4L392.4 52L392.4 48.5L398.6 47.8L400.3 46.8M406.9 57.7L405 60.6L408.9 62.4L413 63.2L416.7 65.1L421.5 65.5L421.5 62.4M423.1 63.6L423.3 64.9L429.5 64.6L428.7 62.6M423.3 74.9L423.1 72L421.5 69.4L422.1 65.7L425 66.5L425 67.7L430.3 68.1L429.9 70L427.9 70.4L428.1 72.2L430.1 71L430.8 74.3L430.8 75.9M430.8 75.9L430.1 77M430.8 75.9L432.2 70.4L435.1 67.9L436.1 65.1L440 64L440.4 61.6M448.4 75.4L446.2 77.9M446.2 77.9L443.9 79L441.5 81.7L441.3 83.1L443.1 86.2L442.3 88.4L444.1 92.5L445.2 95.4L443.5 98.3L442.9 99.1M446.2 77.9L447.2 79.6L448.5 79.6L448.1 82.9L450.1 82.9L451.6 82.9L454.2 82.1L455.7 83.9L455.9 86L457.5 87.6L457.3 90.1L456.7 90.3M456.7 90.3L452.2 90.3L451.1 91.7L451.4 93.6L452 95.7M456.7 90.3L458.4 90.1L461.5 89.5M461.5 89.5L461.5 94.2L458.4 95.4L458.2 97L456.3 97.3L455.1 98.3M450.4 73.6L452.2 75.5L452.2 77L455.5 77.4L454.2 79.2L456.3 81.3L457.5 82.9L459.6 85L461.2 86.8L461.5 89.5M446.2 106.4L448.1 107.7L449.7 107.7L450.7 106.9M496.1 37.8L499.6 35.5L501.4 33.9L503.7 34.5L504.3 33.5L507.6 31.7L509 32.7M509 32.7L510.1 31.5L510.5 27.8L514 27.4L517.5 20.6L513 21.8L509.9 21.8L509 19.6L502.7 17.5L500.6 13L498.5 11L494.4 9.9L489.3 10.3L487.2 11.6L488.6 13L485.1 17.1L482.7 18.1L480.4 17.5M480.4 17.5L478.1 21.4L481.8 22L487 23.9L480.2 24.7L474.2 27.8L470.5 30L468.7 30.8L465.2 32.7L456.3 34.3L448.1 32.3L439.8 31.9L438.4 31.9L436.5 28.8L427.5 26.9L426.8 24.7L427.5 23.2L422.9 21L420.9 18.7M420.9 18.7L419.8 18.9M419.8 18.9L416.7 20.4L416.5 22.8L411 22.8L409.5 26.3L405.2 27.4L406.4 31L405.2 33.1M405.2 33.1L401.7 34.5L398.2 35.5L394.5 36.8L392 38L391.6 38.8M391.6 38.8L392 40.5L394.5 42.7L394.3 43.3M393.7 43.8L396.1 44.4L400.3 46.8M400.3 46.8L402.7 49.3L402.7 53L402.1 55L403.4 56L406.9 57.7M406.9 57.7L409.3 57.9L413 60.4L416.7 61.8L421.5 62.4M421.5 62.4L422.9 62.2L423.1 63.6M423.1 63.6L424.8 61.8L428.1 62.2L428.7 62.6M428.7 62.6L431.6 61.6L434.7 59.7L437.8 59.3L440.4 61.6M440.4 61.6L443.3 63L443.3 66.5L441.3 68.8L441.1 70.6L443.7 72L444.4 74.3L446.4 75.5L448.4 75.4M448.4 75.4L449.7 76.1L449.5 73.7L450.4 73.6M450.4 73.6L452.8 72.9L456.9 71.8L459.8 72.9L459.8 74.5L462.5 75.5M465.9 115.4L466.6 117.1L468.7 117.5L471.1 116.7L474.4 116.9L476.5 115.7L476.9 113.9L478.1 112.6L477.9 110.8L482.3 111M530.5 124.9L530.5 138.3M497.5 137.8L497.7 139.1"/>
<path fill="none" stroke="#303030" stroke-width=".45" stroke-linejoin="round" d="M-1.2 53L-0.2 55L1.5 57.7L3.5 60.1L5.2 62.2L3.5 63L6.2 64.9L8.9 67.3L9.3 69.2L11.8 71.2L13.6 72.7L14.6 71.6L12.8 69.8L11.3 67.3L9.7 64.7L7.6 62.2L6.2 59.7L4.1 57.1L3.5 54.4L6.8 55.6L8.2 58.3L10.3 61L12.4 62.8L14.4 65.3L16.5 67.7L19 70L21 72L22.5 74.5L23.1 76.5L22.5 78L24.5 80.2L27.2 82.1L30.3 83.1L33.6 84.8L37.1 86.2L40.6 87.4L43.9 86.6L45.9 86.4L48 88L50.1 89.9M39.8 66.5L38.7 69.4L38.5 73.5L39.6 75.9L41.2 79L42.4 81.1L45.1 82.3L48.4 81.9L51.3 81.7L53.2 79.8L53.8 77L56.7 75.9L59.5 75.5L61.2 76.1L60 78.2L59.8 80L58.5 81.7M58.5 81.7L58.3 83.7L58.1 85.6L56.9 87M56.9 87L57.5 87.4L58.3 87.4M50.1 89.9L51.9 91.1L54.4 91.4M54.4 91.4L56.7 92.1L58.7 92.6L59.1 92.3M59.1 92.3L60 92.1L60.2 92.9M68.6 88.8L67.4 88L65.7 87.1L62.8 87L59.8 87.1L58.3 87.4M60.2 92.9L59.5 93.2L61.8 95L63.5 96.8M67.6 97.3L67.6 95L68 92.9L68.2 90.9L68.6 88.8M63.5 96.8L63 98.5L64.7 99.9L65.3 99.1L67 100.3L67.8 102L68.4 102.4L69.2 103.1M69.8 99.9L68.6 98.7L67.6 97.3M69.2 103.1L70.7 102.6L72.1 103.8L73.3 104.8L74.6 104.4L74.4 102.8L75.8 101.8L76.6 101.1L78.3 102.2L78.9 103.2L78.5 104.2L79.5 104.8M80.6 101.8L79.3 100.5L77.3 99.9L75.6 100.3L73.1 101.6L71.5 101.1L70.5 100.5L69.8 99.9M39.8 66.5L39.4 63.6L41 61.4L43.9 59.9L45.9 58.9L48.8 58.9L51.9 59.5L54 59.9L56 60.1L55.8 57.7L58.7 57.3L61.8 57.3L64.1 58.7L66.5 57.9L68.8 59.7L69.6 62.6L71.1 65.1L72.5 67.5L74.2 67.9L75 65.3L74 61.4L72.5 58.1L72.7 55L75 52.8L77.3 50.9L79.5 49.9L82.2 48.5L84.3 47.2L83.4 44.2L82.6 42.1L82.8 39.2L83.6 42.5L85.1 41.1L84.7 38.8L86.9 38.6L87.6 36.6L90.4 35.8L93.3 34.5L95.8 34.1L94.4 32.7L94.6 30.8L97.4 29.4L102 27.8M102 27.8L104 26.9L106.5 26.1L107.3 26.9L104.5 28.4L104 30L107.5 28.6L111.2 27.4L114.3 26.5L116.4 24.5L115.2 23.2L113.1 25.7L110.2 25.7L107.1 24.7L106.1 22.2L107.3 19.6L103.4 18.9L98.9 20.4L94.6 23.2L96.6 20.8L101.4 18.3L107.1 16.5L114.3 16.7L118.9 15L122.6 14L125.1 12.4L124.6 9.9L121.5 8.5L118.5 6.4L115.4 5.2L112.9 2.3L111.7 -0.3L110.2 -2.4M44.3 -3.4L45.1 -0.9L48.8 2.5L53.6 2.5L58.7 4L64.5 6L70.5 6.6L70.7 10.5L73.1 13L74.2 14.4L76.6 14L77.7 12.4L77.3 8.9L76 7.3L80.3 5.6L82.2 2.8L80.3 -0.3L79.3 -3.4M117.8 22L121.5 22L125.5 23.2L128.8 22.2L130.6 24.1L131.6 22.2L129.8 20.2L128.8 18.3L125.1 17.1L125.7 13.8L122 15.7L120.5 18.5L117.8 20.8L117.8 22M107.1 17.3L111.2 17.9L112.9 18.9L109.2 18.5L107.1 17.3M107.3 23.9L110.2 24.5L112.3 24.5L111 25.3L108.6 24.7L107.3 23.9M65.1 74.7L66.5 73.5L69 72.6L71.1 72L74.2 72.3L76.6 73.5L79.3 74.1L81.4 75.3L84.1 76.5L87.1 78.2L85.5 78.8L82.4 78.7L79.9 78.9L81 77.4L78.7 77L77.7 75.3L74.4 74.9L71.5 74.1L70.7 73.3L68.2 74.1L66.5 74.7L65.1 74.7M92.2 82.6L90.7 82.3L88 82.5L86.6 81.9L86.9 81.4L90.4 81.7L90.2 80.4L88.8 79.2L90 78.7L92.2 79.1M92.2 79.1L93.9 78.8L96 79.3L96.6 80.4L98.9 81.3L98.7 82.3L96.2 81.8L94.6 82.2L93.1 83.4L92.2 82.6M78.6 82.1L80.3 81.7L82.8 82.5L81.8 83L79.9 83L78.6 82.1M101.5 81.9L104.7 81.9L104.7 82.7L101.6 82.8L101.5 81.9M112.5 97.7L114.3 97.5L114.3 98.9L112.5 98.9L112.5 97.7M78.9 68.1L79.9 68.1L79.9 70.2L78.7 69.8L78.9 68.1M80.1 64.5L81.4 65.3L81.2 66.3L80.6 65.9L80.1 64.5M77.5 64.9L79.5 64.8L78.3 65.3L77.5 64.9M88.2 76.3L89.6 75.9L89.2 76.7L88.2 76.3M83.9 69L84.9 70.2L84.5 70L83.9 69M80.6 101.8L81.8 103.2L83.4 100.5L84.3 98.1L85.9 96.8L88.6 96.4L91.3 94.8L93.1 94.2L93.1 95.4M93.1 95.4L91.9 96.8L92.5 97.9L91.7 99.9L93.3 100.9L93.7 99.3L92.7 97.3L95.4 96L95.8 94.6L96.6 96L99.3 97.3L100.3 98.1L104 97.9L106.5 98.9L108.6 97.9L111.2 97.7L112.5 97.7L110.8 98.5L112.3 99.3L114.3 100.1L114.8 102L116.4 102.4M116.4 102.4L118.5 103.2L120.5 105.7L122.2 107.3M122.2 107.3L124.8 107.5L126.7 107.4L128.8 107.7M128.8 107.7L131 108.7L132.9 110.2L133.5 111M133.5 111L134.9 112L136.2 115.7L137.2 117.3L136.2 119.2L139.9 120.2L141.1 121L144.8 121.6L148.1 124.1L150.4 124.6L154.5 125.5L157.6 125.4L160.7 127.2L163.4 129.4L167.1 130.3L168.2 134.4L167.7 138L165 141.1L163 143.8L160.7 146.2L159.7 150.3L159.5 155.5L158.2 159.6L155.7 163.9L153.7 166.5L150.4 166.8L147.3 168.2L144.2 169.2L141.1 171.5L139.9 173.9L139.7 177.8L137 180.9L134.1 184.2L132.1 186.8L130 188.7M130 188.7L128.8 190.3L126.7 191.1L124 191.1L120.9 190.2L119.7 189.1M119.7 189.1L119.5 190.3L122 192.2L123.2 194.4L121.3 197.5L118.5 198.9L112.3 199.5L111.7 202.8L106.1 203.4L106.1 205.7L108.8 206.7L106.5 208.2L105.5 210.8M95.2 157.1L95.4 160.6L95.6 164.7L94.8 170.8L93.7 177L92.7 181.1L92.5 187.2L90.7 192.4L88.6 195.9L89 200.6L88 205.3L87.6 210.8M74.6 126.6L72.5 128.8L72.9 131.9L75.6 134.4L78.3 139.1L81 144.2L83 147.9L85.5 151.4L90.7 154.4L93.7 156.1L95.2 157.1M77.7 116.5L75.2 118L75 119.6L73.3 121.6L73.3 124.3L75.2 124.7L75.4 125.1L74.6 126.6M79.5 104.8L80.3 107.3L80.6 111.4L81 111.8L78.3 114.3L77.7 116.5M135.8 120L138 120L140.1 120.6L139.5 122.7L136.4 123.1L135.4 121.2L135.8 120M51.5 120.2L52.5 120.4L52.1 121.6L51.5 120.2M53.6 120.6L54.2 120.8L53.8 121.2L53.6 120.6M227.8 46.2L229.1 46L231.1 47.4L233.8 47.2L235.5 47.6M235.5 47.6L237.9 46.4L241 45.4L246.2 44.2L250.3 44.2L254.4 43.8L257.7 44M257.7 44L260.2 43.1L261.2 43.3L262.7 43.8L261.8 45L261.6 46.2L262.7 47.4L261 49.3L260.6 50.3L262.7 50.9L263.7 51.6M263.7 51.6L267.2 52.2L271.3 53.4L272.3 55.2L276.1 56.3L279.1 57.5L281.2 56.3L281.2 53.6L284.3 52.2L287.4 52.8L291.7 54.8M291.7 54.8L295.6 55.4L299.7 56.3L302.4 55.2L303.9 54.8L306.5 55.4L310.5 55.4M311.9 59.1L310.9 62.2L310.5 62.8L309 61.2L307.2 58.3L307.2 60.1L309 62.6L310 65.3L312.1 69L313.5 71.4L316 74.5M316 74.5L316.6 76.5L316.8 79.6L319.3 82.7M319.3 82.7L321 86.8L322.4 88.8L324.9 90.1L327.3 92.5L328.8 93.6M328.8 93.6L329.4 95.2L327.8 96L329.1 96.1M329.1 96.1L331.7 98.3L334.8 97.5L338.9 96.6L343 95.8L345.5 95L345.3 98.1L343.2 103.2L340.9 107.3L338.9 110.4L334.8 114.5L331.7 116.5L328.6 119.6L325.7 123.1M325.7 123.1L322.8 125.1L322.4 126.8L321.6 128L320.8 129.2M320.8 129.2L319.9 131.9L321 133.7L321.4 137L322 140.1L323.2 141.1M323.2 141.1L323.6 145.2L324 149.3L323.4 151.4L321.4 153.4L317.2 155.9L316 156.5L312.1 160.2L312.7 163.7L313.1 167.8L312.7 169.8L308 171.5L307.6 172.9L307.8 174.6M307.8 174.6L306.7 178L303.9 180.9L301.8 183.8L298.7 186.6L295.6 188.3L292.9 189.3L289.4 189.5L285.3 189.7L281.2 190.9L278.1 189.9L277.7 186.8L277.5 184.6L275.4 181.1L274 178.2M274 178.2L271.3 174.5L269.9 168.8L269.9 166.1L267.4 161.6L264.7 156.5L264.2 155M264.2 155L264.7 151.4L265.8 147.3L267.8 144.2L268.4 141.5L267.2 138L267.4 136.6L265.3 132M265.3 132L265.1 131.5M265.1 131.5L264.7 129.8M264.7 129.8L262.9 127.7M262.9 127.7L260.6 125.3L259 123.3L257.9 121L259.2 120.2L259.6 118.6L259.8 117.5M259.8 117.5L259.4 116.5L260.2 114.9M260.2 114.9L260.2 113.2L259.6 111.6L258.3 110.4L257.5 110M257.5 110L255.4 110.4L252.6 110.8L251.1 108.9L249.3 106.7L245.6 106.6M245.6 106.6L243.4 106.9M243.4 106.9L242.5 107.1M242.5 107.1L241.4 107.8L239.6 108.3L235.9 109.9L233.6 109.1M233.6 109.1L231.8 108.9L227.6 109.6L224.6 110.6M224.6 110.6L221.5 109.3L217.8 106.7L216.3 105.5M216.3 105.5L214.2 104.4L212.8 102.4L212.6 101M212.6 101L211.8 100.1L209.9 98.3L208.9 97.2M208.9 97.2L207.7 96L206.4 95L205.6 94.3M205.6 94.3L205.4 92.8M205.4 92.8L205.9 91.7M205.9 91.7L203.9 89.5L205.4 87.2L206 86.6M206 86.6L206.8 82.7L206 79.8L206.4 77.6L204.9 77L204.9 75.8M204.9 75.8L207 71L209.3 68.3L211.6 65.1L212.8 62.9M212.8 62.9L216.3 61L219.2 59.5L220 57.1L219.8 55L222.5 51.3L226 49.7L227.8 46.2M341.6 144.2L343.8 151.4L342 155.5L340.5 160.6L338.3 167.8L336.8 170.8L333.1 172.1L330 167.8L329.2 164.3L331.7 160.2L330.6 155.5L332.3 152.8L335.8 151.8L338.7 148.9L340.5 145.6L341.6 144.2M257.5 112L258.3 112L258.1 112.8L257.5 112.8L257.5 112M253.4 118.8L253.9 119L253.6 119.5L253.4 118.8M205.2 61.5L206.6 61.1L206.2 62.1L205.2 61.5M207.5 62L208.3 62L208.1 62.7L207.5 62M210.1 62L211.4 60.8L211.4 61.8L210.1 62M202.9 60.6L203.4 60.6L203.2 61.2L202.9 60.6M191.2 88.2L191.7 88.8L191.4 89.1L191.2 88.2M187.9 84.5L188.5 84.5L188.3 85L187.9 84.5M329.2 143.2L329.6 143.8L329.2 144L329.2 143.2M353.9 162.4L354.9 162.9L354.3 163.4L353.9 162.4M358.2 160.8L359.1 161L358.4 161.6L358.2 160.8M350 93.8L352.1 93.8L351.2 94.3L350 93.8M228.9 45.6L227 44.8L226.8 44L224.8 43.3M224.8 43.3L221.7 43.8L221.9 40.9L220.4 40.1L221.7 37.2L222.1 35.5L221.9 33.7M221.9 33.7L220.8 31.5L223.5 30L228.7 30.2L232.8 30.4L236.3 30.6M236.3 30.6L237.5 28.2L237.7 26.1L237.5 24.9L235.5 22.8L230.9 21.4L230.1 20.4L233.8 19.6L236.7 20L236.3 17.7L237.7 18.3L240.4 18.1L243.3 16.5L243.3 15.3L245.3 14.8M245.3 14.8L247 14.2M247 14.2L248.2 13L249.7 11L251.3 10.3L254.4 10.1M254.4 10.1L256.7 9.7L257.7 8.9L258.1 7.1M258.1 7.1L256.7 5.6L256.9 2.8L259.6 2.3L261.8 1.3L261.4 3.8L262.2 4.4L260.6 5.8L259.8 6.9L260.4 7.3M260.4 7.3L262.2 8.9L264.7 8.5L267.8 7.9L269.3 9.1M269.3 9.1L273.6 8.1L277.9 7.3L278.7 8.2L280.4 8M280.4 8L281.2 7.1L283.3 6.2M283.3 6.2L283.4 4.7M283.4 4.7L283.3 2.8L284.7 1.5L286.6 1.3L287.8 2.8L289.4 2.5L290.3 0.9M290.3 0.9L290.1 0.1L288.4 -0.5L288.4 -2.4M263.1 -1.8L263.1 -0.3L264.5 1.3L265.8 3.8L266.4 5.8L267.8 6L269.5 5.6L270.3 4.6L273 4.4L274 2.8L274.4 1.1L274.6 -0.3L276.1 -1.8M250.7 -1.8L251.5 -0.3L253.6 0.5L254.8 0.7L256.9 0.3L258.5 -0.5L260.6 -1.8M263.1 6.4L264.7 6.9L266 5.4L265.3 4.6L263.1 5.4L263.1 6.4M260.2 5.8L262 5.8L262 6.6L260.6 6.6L260.2 5.8M277.5 2.5L278.7 1.9L279.1 0.9L277.9 1.5L277.5 2.5M285.3 0.1L287.4 -0.3L286.4 0.5L285.3 0.1M186.9 41.9L188.1 42.1L187.5 42.3L186.9 41.9M181.1 40.5L182.1 40.7L181.7 40.9L181.1 40.5M183.6 40.1L184.2 40.3L184 40.5L183.6 40.1M204.6 52.3L205.6 52.5L205 52.8L204.6 52.3M228.9 45.6L230.9 44.4L235.5 44.4L238.6 42.5L240.4 40.3L239.4 38.6L241.9 36L244.5 34.7L246.6 32.7M246.6 32.7L246.4 31.5L248.2 30.4L251.1 30.8L253.6 31L255.4 29.8M255.4 29.8L258.3 28.6L261 29.6L261.6 31.7L264.3 33.3L265.3 34.1L268.4 35.1L269.5 36L272.1 37.6L273.2 40.3L272.3 41.8L274 41.1L275.2 39.7L274.2 38.2L274.8 36.8L277.1 37.8L278.1 37.4L277.1 36.2L273 34.7L273 33.7L270.9 33.5L268.8 32.1L268 30.4L265.5 29L265.3 26.7L268.2 25.9M268.2 25.9L268 26.3M268 26.3L268.6 27.8L269.9 26.7L271.3 29L274 30.4L276.3 31.7L278 32.6M278 32.6L280 33.8M280 33.8L280.2 34.9L280 36.8L281.2 38.2M281.2 38.2L282.6 40.1L283.5 41.1L283.9 42.3L284.7 44.2L286.4 44.8L287.6 44.8L287.4 43.1L287 41.9L288.8 41.9L289.4 42.3L289.4 41.1L288 40.1L287.2 39L286.8 36.8L289 37.6L290.3 37.2L289.4 36.2L291.7 35.8L293.6 36M293.6 36L294.2 37.4L295 36.8L296.6 35.7L299.5 35.5L299.9 35.1L297.9 34.1L297.7 33.5M294 37.6L294 38.8L295.2 39.7L295.2 40.9L294.2 41.1L296 42.9L296.4 43.8L298.1 44.4L300.2 45.2L302.8 45L303.2 44L305.9 44.8L308 45.6L311.3 44.2L313.3 44.6L314.6 44.4L314 46M299.9 35.1L300.6 36L297.7 36.8L295 37L294 37.6M299.9 35.1L304.5 35.1L308.6 33.5L312.3 33.5L315.2 34.9L319.3 35.7L322.4 35.5L325.5 34.5M314 46L314 48.6M314 48.6L313.1 50.1L312.3 51.7M312.3 51.7L311.1 54.8L310.5 55.4M297.7 33.5L296.9 32.3L297.5 31L298.9 29.9M298.9 29.9L299.1 28.8L301 26.9M301 26.9L302.2 25.7L303.2 24.3L305.7 23.9L306.9 25.1L309.2 25.1L306.9 26.5L309 28.2L311.1 28.4L312.9 27.4L315.2 26.5L312.1 25.9L312.1 24.9L315.4 23.9L318.7 23M318.7 23L321 22.8L318.3 25.3L316.8 26.7L315.8 26.9L318.3 28.6L321.8 30.6L322.4 30.6M322.4 30.6L325.5 32.5L325.9 33.7L325.5 34.5M336.8 27.8L337.9 31.5L339.9 33.5L339.9 33.9L342 36.4L343.8 37L341.8 39L340.7 40.9L340.9 42.5L343.6 43.1L346.1 44.4L349.2 44L351 43L350.8 39.9L349.2 38.6L349.2 37.6L348.8 35.1L351.2 34.5L349 34L347.9 33.3L346.7 31.5L344.6 28.6L345.7 26.7L349.2 26.7L349.6 23.9L347.1 23.2L345.1 23.5L341.4 24.5L338.9 25.7L336.8 27.8M229.7 -0.5L233.8 -0.6L233.2 1.3L235.9 1.3L236.3 1.9L234.8 4L233.4 4.8L235.9 5.2L236.9 6.9L239.6 8.7L240.2 9.9L240.6 11.2L243.5 11.6L243.3 13L241.9 14.2L242.9 14.6L240.6 15.5L236.9 15.7L233.8 15.7L232.6 16.5L229.3 17.1L228.3 16.9L230.7 15L233.8 14.4L229.7 13.6L231.1 12L230.5 10.5L233.8 10.1L233.8 8.9L232.8 7.7L233.2 7L229.7 7.3L230.1 5.8L228.5 6L228.7 4.2L227.2 3.4L228.1 1.7L229.7 -0.5M228.7 8.1L227.4 10.3L227 12.6L222.5 13.8L219.4 13.8L219.8 12L219.4 9.9L222.3 8.3L222.9 6.6L225.6 6.2L227.6 6.6L228.7 8.1M224.6 2.8L227.2 -0.1L225.6 0.3L224.6 2.8M265.8 41.7L272.1 41.3L271.1 44.4L265.8 42.5L265.8 41.7M257.1 35.5L259 35.1L260 37.6L259.6 39.4L257.5 39.7L257.3 36.8L257.1 35.5M259.4 31.5L259.6 33.5L259 34.7L257.7 32.9L259.4 31.5M288.4 46.8L291.5 47L294.2 47.4L291.1 48L288.4 47.3L288.4 46.8M306.5 47.8L308 47.1L311.3 46.4L310 47.8L308 48.7L306.5 47.8M244.9 38.4L246.4 37.8L247 38.2L246.2 39L244.9 38.4M287.8 39.9L290.5 41.5L289.6 40.5L287.8 39.9M297.3 45.4L298.1 45L297.7 45.8L297.3 45.4M293.6 39.2L294.6 39L294.4 39.7L293.6 39.2M311.9 59.1L312.1 62.2L315.2 66.3L316.6 69.4L319.3 72.4L320.5 75.5L323.4 79.6L326.5 83.7L328.2 86L328.6 88.8L329.4 93.6L332.7 93.4L337.9 91.3L340.9 90.3L345.1 88.4L347.5 87.6L349.4 85.5L352.3 84.8L354.3 83.1L356.4 81.7L359.1 80.7L359.1 78L361.1 77.6L363.2 73.5L360.7 71.2L357.4 70.4L356.2 68.6L356.2 67.1L356 65.7L355.6 66.3L353.9 67.7L352.1 69.4L348.4 70L346.3 70.2L345.5 69.2L344.6 69L346.3 68.3L346.1 66.3L345.5 66.1L344.6 67.3L344.5 68.9L343.2 66.5L343.4 65.1L340.9 63.2L339.9 61.4L339.1 59.5L338.9 58.3L339.9 58.2M339.9 58.2L340.9 57.3L343 57.9L344.9 60.4L348.1 63.2L352.3 65.1L356 64L357.4 64.7L358 66.9L361.5 67.5L366.9 67.9M366.9 67.9L372.9 67.7L377 67.5L378 68.8L380.5 71M380.5 71L382.1 73.7L384.2 76.5L386.3 77.2L388.7 76.1L389.6 73.9L390 76.3L390 80.7L391 84.8L392 87.8L394.1 92.9L396.1 96.4L397.2 100.1L399.6 103L401.1 101.4L403.2 100.5L404.4 98.5L404.6 95L405.4 92.7L405 88.2L407.9 86L409.5 85.4L412 83.1L415.1 80L418.2 78.2L419.2 75.7L421.3 75.1L423.3 74.9M423.3 74.9L426.4 74.5L429.1 73.7L430.1 77M430.1 77L431.6 78.6L434.3 81.7L434.3 86.8L436.3 87.2L439.4 85.2L441.1 85.8L441.3 88.8L442.3 91.9L443.1 95L442.9 99.1M442.9 99.1L442.5 101.1L442.5 103.4L445 105.2L446.2 106.4M446.2 106.4L446.6 108.5L447.4 111.4L448.7 113.7L450.5 115.1L453.2 116.9L454.7 116.8L454 114.5L453 112.2L453 109.8L450.7 106.9M450.7 106.9L449.1 105.5L447 104.6L446 102.2L444.4 100.5L444.6 98.1L445.6 95.4L446 92.1L447.9 92.1L448.1 93.8L450.5 94.6L452 95.7M452 95.7L452.4 97L453.4 98.1L455.1 98.3M455.1 98.3L455.9 99.1L455.9 102L457.3 101.1L459.8 98.5L461 98.3L464.1 96.4L465 94L465.2 91.3L464.3 88.2L462.9 86.6L460.4 84.5L459.2 82.7L457.7 80.9L458.2 78.8L459.8 77.2L462.5 75.5M462.5 75.5L463.5 75.1L466 75.5L466.6 77.8L467.6 76.1L470.3 75.1L473.8 74.1L475.9 73.3L480 72L483.1 69.6L486.2 67.3L487.2 64.9L489.3 61.6L491.3 58.3L489.3 56.9L491.3 56L489.3 53L487.8 49.3L485.6 47.8L487.8 45.6L492.4 43.8L489.9 42.5L485.1 43.3L482.7 40.5L483.1 39.2L486.2 37.8L489.3 36L491.7 36.8L489.7 40.1L493.4 38.2L496.1 37.8M496.1 37.8L498.1 38.6L497.5 40.5L496.9 41.5L498.9 41.9L500.8 42.3M500.8 42.3L500.8 43.8L500.2 45.8L500.4 48.5L502.7 48.5L505.7 47.6L506.6 45.8L506.4 43.1L504.5 40.5M504.5 40.5L502.7 38.4L504.7 37L507.2 35.8L507.4 33.9L509 32.7M509 32.7L511.7 31.2L514.4 31.9L519.1 28.4L522.2 25.3L525.3 22.2L529.4 17.1L529.4 14L531.3 11L528.8 10.3L526.3 8.7L523.2 8.9L521.6 7.7L518.5 7.5L521.8 5.6L524.7 3.6L528.4 1.1L530.5 -0.5L532.5 -2.4M532.5 25.3L535.6 24.7L534 22.2L535 18.5L537.7 19.2L535.2 16.1L535.4 12L534.2 8.3L532.5 9.9L532.1 13L532.9 16.1L532.5 20.2L532.5 25.3M565.1 -2.4L563.4 0.3L562.4 2.3L560.5 5.8L561.4 11L562.4 15L566.1 12L569.6 9.9L569.6 7.7L573.7 6.9L573.7 4.2L576.4 3.2L575.8 0.7L574.8 -2.4M559.7 16.5L561.4 15.9L560.3 16.9L559.7 16.5M540.8 28.4L544.7 26.5L542.4 28.4L540.8 28.4M548 25.9L550 24.9L549 25.9L548 25.9M553.1 23.2L555.2 21.2L554.2 22.8L553.1 23.2M507.8 50.9L509.9 50.1L511.7 51.5L510.9 55L509.2 55.8L508.2 54L507.2 52L507.8 50.9M513 50.3L517.1 49.5L516.7 51.1L514 52.4L512.7 51.3L513 50.3M509.9 49.9L513 49.5L516 48.7L518.7 48.9L519.7 50.9L522.2 48.7L525.9 48.5L528 47.8L530 46.4L530.3 43.8L531.5 41.1L532.5 38.6L531.5 34.7L529 35.1L528.4 37.6L527.8 40.7L525.3 42.9L522.6 44.2L522.2 42.7L521.2 44.2L520.2 45.8L519.1 46.6L516 46.8L513 47L510.5 48.9L509.9 49.9M528.4 34.5L529 32.9L530.5 32.5L535 33.5L539.7 30.8L538.7 29L535.6 29L532.1 26.3L531.7 29.4L531.1 30.8L529 31L528 32.9L528.4 34.5M490.3 67.9L491.3 68.8L490.1 72L489.1 74.5L487.4 72.4L488.8 69.4L490.3 67.9M463.9 80.2L465.6 78.6L468 78.4L468.7 79.6L466.6 82.1L464.1 81.7L463.9 80.2M503.1 65.9L504.3 64.7L503.5 65.5L503.1 65.9M500 51.1L501.4 50.9L500.8 51.5L500 51.1M404.8 99.5L407.3 102.2L408.7 104.6L407.5 106.9L405.2 107.3L404.2 104.2L404.6 101.4L404.8 99.5M436.3 108.1L440.9 108.9L442.5 110.8L445.8 113.4L447.6 115.3L450.7 117.5L453 118.6L453.8 120.2L455.3 122.7L458.4 125.8L457.9 128.8L457.9 131.6L455.5 131.5L454.9 129.8L450.7 127.8L448.1 125.1L446.6 121.6L444.1 119L443.3 116.1L441.1 114.3L438.8 112L436.5 109.8L436.3 108.1M456.7 133.5L458.4 131.7L460.4 131.8L463.5 132.9L467.6 133.7L468.7 132.7L472.2 133.7L472.4 134.8L475.7 135.4L475.9 137.2L472.8 136.6L468.7 136.5L464.5 135.4L461.5 135.4L459.2 134.6L456.7 133.5M465.9 115.4L468.7 116.5L469.3 114.7L472.8 113.2L474.8 110.4L477.7 108.9L479 107.1L480.4 105.2L482.5 106.7L483.1 107.9L485.6 108.7L483.7 110.6L482.3 111M482.3 111L482.9 112.8L482.1 114.5L483.1 115.5L485.1 117.5L482.7 118L482.1 119.6L481.8 121.2L480 122.7L480 124.7L479 127L476.3 128L475.9 126.6L472.8 126.2L470.3 126.8L467 125.5L466.6 122.7L464.7 120.2L464.5 118L465.2 116.5L465.9 115.4M489.1 116.9L493 117.8L496.5 117.1L497.9 116.3L496.5 118.8L493.4 118.6L490.3 118.6L487.6 119L487.4 121L489.9 121.4L493.2 121.4L494.2 121.6L491.9 122.9L490.5 123.5L492.1 126.2L493.8 127.8L492.6 130.7L491.3 129L490.3 129L489.3 126.6L489.1 124.9L487.8 126.2L488 130.9L486.2 130.9L486.2 126.8L484.7 125.1L485.8 122.5L486.8 119.8L486.8 118.4L489.1 116.9M530.5 124.9L526.3 123.7L523.9 122.7L520.8 124.3L519.1 126.6L516.7 126.4L516.5 122.5L516 121.2L513 120.4L509.9 121.2L509.9 122.5L512.3 124.1L515 124.3L511.9 125.3L513.6 126.4L514 128L517.1 127.8L520.2 129L524.3 130.9L525.9 133.5L524.3 134.6L524.3 136.4L525.9 136.6L528.4 136.2L530.5 138.3M530.5 124.9L533.5 126.4L537.7 127.6L540.3 129.8L543.2 131.9L544.5 133.3L542.8 133.5L542.6 135L545.5 137.6L548 139.5L550.6 140.7L549 141.3L544.9 140.3L542.8 138.9L540.8 136.4L537.7 135.4L535.6 136.6L534.6 138.5L530.5 138.3M545.5 131.3L549 129.8L552.1 128.2L553.7 128.4L553.1 130.5L550 132.3L546.9 132.3L545.5 131.3M550.6 124.9L554.2 127L555.2 129.2L554.4 128.6L552.7 126.8L550.6 124.9M558.7 130.9L561.2 133.1L560.5 133.7L558.7 131.7L558.7 130.9M542 123.7L543.6 123.7L542.8 124.1L542 123.7M562.4 133.3L564.7 134.8L563.8 134.8L562.4 133.3M566.5 135.2L569.2 136.8L568 136.4L566.5 135.2M568.8 138.7L571.2 139.7L569.6 139.7L568.8 138.7M571 136.8L572.3 139.1L571.5 138.5L571 136.8M564 136L565.5 137.2L564.5 137.2L564 136M497.5 137.8L496.5 138.5L494.4 140.7L495.4 140.7L497.5 139.5L497.7 139.1M497.5 137.8L498.5 137.2L502 136.8L500.6 138.3L497.7 139.1M486.6 109.1L487.8 108.7L487.2 109.5L486.6 109.1M488.8 107.3L490.1 107.1L489.5 107.6L488.8 107.3M490.9 105.9L491.9 105.9L491.5 106.5L490.9 105.9M486.8 94.6L487.8 94.8L487.2 95.2L486.8 94.6M480.8 103.2L481.2 103.5L480.9 103.6L480.8 103.2M475.9 136.4L478.1 136.4L477.3 137.5L475.9 136.4M479 136.8L480.4 136.8L479.8 137.8L479 136.8M480.6 137L483.1 136.4L485.1 136.8L484.1 137.7L481 138L480.6 137M486.8 137L490.3 136.8L493.4 136.6L492.4 137.6L488.2 137.8L486.8 137M485.1 139.1L487.8 139.3L488.8 140.3L486.4 139.9L485.1 139.1M502.7 115.5L503.7 116.9L505.1 116.7L503.7 118.4L504.7 120.6L503.3 119.6L502.9 117.5L502.7 115.5M503.7 125.8L506.8 125.3L509.4 126.6L506.8 126.8L503.7 126.6L503.7 125.8M499.6 126.2L501.6 126L502 127L500 127.4L499.6 126.2M456.7 123.1L458.8 122.9L459.8 125.8L458.4 125.1L456.7 123.1M461.7 124.9L462.9 125.1L462.5 126.2L461.7 124.9M440 116.7L441.5 117.8L441.7 118.4L440.4 117.5L440 116.7M443.1 121.6L444.4 123.1L443.7 123.1L443.1 121.6M472.2 133.9L474.8 133.7L474.8 134.4L472.4 134.4L472.2 133.9M516.5 131.5L517.7 131.9L517.1 133.5L516.5 132.5L516.5 131.5M510.3 135L511.3 134.4L511.1 136L510.3 135M519.1 121.2L520.8 121.6L520.2 122.1L519.1 121.2M496.5 123.1L499.6 123.3L497.5 123.7L496.5 123.1M499.1 135.4L501.2 135.2L500.4 135.9L499.1 135.4M504.1 114.5L504.9 115.1L504.3 115.5L504.1 114.5M502.2 122.5L503.7 122.7L502.9 123.1L502.2 122.5M492.6 128.8L493.8 129.4L493 131.1L492.6 128.8M488.4 81.7L491.7 81.7L492.1 84.8L490.5 87.2L490.7 90.3L492.4 90.9L495.4 91.3L495.6 93.8L493.8 92.5L491.9 92.1L489.3 91.5L488.4 90.3L487.4 89.3L487 86.4L488 83.7L488.4 81.7M498.5 99.5L500.4 102.2L500.4 105.2L498.5 107.7L497.9 106.7L495.4 106.3L495.9 104.6L494 104L491.3 105.2L491.7 103.2L494 102L496.5 102L497.5 101.1L498.5 99.5M496.1 94L498.1 94L498.9 96.6L497.5 96.6L497.3 95.2L496.1 94M496.3 96.2L497.5 96.4L497.9 98.7L497.1 98.9L496.3 96.2M492.1 99.1L493.8 97.3L494.4 98.1L493.6 100.9L492.6 100.3L492.1 99.1M491.3 95.2L493.4 96L493.4 97L491.3 98.1L491.3 95.2M494.2 98.3L495.4 96.6L495.2 98.1L494.2 100.1L494.2 98.3M495 99.3L496.5 98.9L496.5 99.7L495.4 99.9L495 99.3M481.4 102.4L484.1 99.5L486 96.4L486.2 97.9L484.1 100.7L482.1 102.4L481.4 102.4M488 91.9L489.7 92.1L490.3 94.2L489.3 94.6L488 91.9M493.8 94L495.4 95L494.6 95.2L493.8 94M473.2 172.9L474.2 165.7L475 164.3L480.6 161.6L485.1 160.6L490.3 158.5L491.7 155.5L494.4 155.1L496.5 151.4L499.6 148.3L503.3 149.3L504.7 150.1L506.8 149.9L507.4 147.3L509.4 145L513 143.2L518.1 144.6L521.8 144.6L520.2 147.3L519.1 150.3L523.2 152.4L526.8 155.5L530 155.5L531.5 150.3L531.9 145.2L533.5 141.5L535.6 145.2L536.2 149.1L539.3 150.3L540.8 155.5L541.4 158.3L545.9 160.8L548 165.3L550.6 167.8L554.8 171.5L555.6 174.9L556.4 178.2L555.2 183.1L553.7 186.2L551.7 189.1L549.4 193.4L549 196.5L544.9 197.3L541.6 199.8L538.3 198.1L535.6 199.1L530.5 197.7L528 195.4L527.4 193L525.3 192.6L525.3 190.7L523.9 191.6L523.9 187.2L520.2 190.7L519.3 191.1L516.5 187.2L513 185.2L509.9 184.2L505.7 184.4L499.6 185.8L495.4 187.2L494.4 189.1L489.3 188.9L486.2 190.1L483.1 191.3L479 190.9L476.9 189.9L478.1 187.9L478.3 185.2L476.9 181.1L475.3 177L473.2 172.9M538.1 203L541.8 203.9L545.5 203.4L545.5 205.7L544.9 208.2L542.8 209L540.8 208.8L539.3 206.7L538.1 203M508.4 143L510.5 142.8L510.5 143.8L508.8 143.8L508.4 143M521.2 147.9L522 148.3L521.4 148.9L521.2 147.9M521.4 192.8L524.3 193L523.2 193.6L521.4 192.8M555.2 170.2L555.8 170.8L555.4 172.3L555.2 170.2M453.4 116.9L454.2 116.6L454.2 116.9L453.4 116.9M431 91.9L431.6 92.9L431.2 95.8L430.6 94.6L431 91.9M433 104.6L433.4 105.2L433 105.7L433 104.6"/>
</g>
<rect x="1.85" y="1.5" width="571.15" height="205.4" fill="none" stroke="#505050" stroke-width="1.2"/>
<path d="M86.3 58L60.5 86.8M110.5 72.5L94.5 82M49.9 89.4L26.7 94.6M61.3 94.6L43.2 110.3M63.1 104.8L53.4 122.1M76.5 101.7L82.1 93.5M73.8 122.1L49 139.3M108 103L124 102.3M237.8 88.7L243.9 97.4M266 85.2L258.3 96.5M237.3 109L240.4 116.5M224.8 107L206.5 114.3M267.9 105.6L293.2 91.7M293 120.8L304 111.8M261.4 124.2L254.3 130M457.3 86L494.5 77.4M494.7 95.7L509.6 91.2M431 113.2L454.5 118.2M441.6 135.9L471 131.6M534 120.3L534 127.3" stroke="#111" stroke-width=".9" fill="none"/>
<g>
<text x="6" y="16.1" font-size="12" font-weight="bold">A</text>
<text x="10.3" y="73" font-size="9.8" font-weight="bold">Mexico</text>
<text x="28.9" y="82.1" font-size="9.9" font-weight="bold">4</text>
<text x="48.7" y="89.9" font-size="9.9" font-weight="bold">3</text>
<text x="57.2" y="89.9" font-size="9.9" font-weight="bold">2</text>
<text x="86.9" y="57.2" font-size="9.8" font-weight="bold">Honduras</text>
<text x="86.9" y="70.4" font-size="9.8" font-weight="bold">Dominican Republic</text>
<text x="89.9" y="81.5" font-size="9.9" font-weight="bold">2</text>
<text x="73.2" y="92.6" font-size="9.8" font-weight="bold">Panama</text>
<text x="4.4" y="100.1" font-size="9.8" font-weight="bold">Guatemala</text>
<text x="61.4" y="96.7" font-size="9.9" font-weight="bold">2</text>
<text x="62.8" y="104.5" font-size="9.9" font-weight="bold">3</text>
<text x="72.2" y="104.8" font-size="9.9" font-weight="bold">1</text>
<text x="102.3" y="106" font-size="9.9" font-weight="bold">3</text>
<text x="125.3" y="105" font-size="9.8" font-weight="bold">Venezuela</text>
<text x="3.1" y="116.1" font-size="9.8" font-weight="bold">Nicaragua</text>
<text x="63.7" y="113.7" font-size="9.8" font-weight="bold">Colombia</text>
<text x="82.3" y="121.4" font-size="9.9" font-weight="bold">11</text>
<text x="5.8" y="128.7" font-size="9.8" font-weight="bold">Costa Rica</text>
<text x="73.5" y="125.6" font-size="9.9" font-weight="bold">2</text>
<text x="17" y="142.8" font-size="9.8" font-weight="bold">Ecuador</text>
<text x="63.9" y="139.5" font-size="9.8" font-weight="bold">Peru</text>
<text x="83" y="147.2" font-size="9.9" font-weight="bold">4</text>
<text x="111.6" y="139" font-size="9.8" font-weight="bold">Brazil</text>
<text x="124" y="148.5" font-size="9.9" font-weight="bold">12</text>
<text x="211.7" y="80" font-size="9.8" font-weight="bold">Benin</text>
<text x="234" y="88.2" font-size="9.9" font-weight="bold">1</text>
<text x="254" y="80" font-size="9.8" font-weight="bold">Nigeria</text>
<text x="252.3" y="103.4" font-size="9.9" font-weight="bold">2</text>
<text x="224.4" y="107.8" font-size="9.9" font-weight="bold">4</text>
<text x="233.5" y="107.8" font-size="9.9" font-weight="bold">2</text>
<text x="263.7" y="113.2" font-size="9.9" font-weight="bold">3</text>
<text x="166.5" y="119.6" font-size="9.8" font-weight="bold">Cote d'Ivore</text>
<text x="226.2" y="123.8" font-size="9.8" font-weight="bold">Ghana</text>
<text x="260.6" y="125" font-size="9.9" font-weight="bold">1</text>
<text x="227.6" y="137.3" font-size="9.8" font-weight="bold">Gabon</text>
<text x="295.5" y="90.2" font-size="9.8" font-weight="bold">Cameroon</text>
<text x="303.7" y="109.8" font-size="9.8" font-weight="bold">DR Congo</text>
<text x="285" y="128" font-size="9.9" font-weight="bold">2</text>
<text x="391.5" y="75.6" font-size="9.8" font-weight="bold">India</text>
<text x="396.6" y="84.7" font-size="9.9" font-weight="bold">1</text>
<text x="432.3" y="71.3" font-size="9.8" font-weight="bold">Myanmar</text>
<text x="435.4" y="80.8" font-size="9.9" font-weight="bold">1</text>
<text x="442.6" y="91" font-size="9.9" font-weight="bold">10</text>
<text x="494.6" y="79.7" font-size="9.8" font-weight="bold">Thailand</text>
<text x="511.5" y="92.3" font-size="9.8" font-weight="bold">Philippines</text>
<text x="489.6" y="97.4" font-size="9.9" font-weight="bold">1</text>
<text x="516.3" y="107.2" font-size="9.8" font-weight="bold">Papua</text>
<text x="516.3" y="118.9" font-size="9.8" font-weight="bold">New Guinea</text>
<text x="531.6" y="135.3" font-size="9.9" font-weight="bold">7</text>
<text x="389.4" y="116.2" font-size="9.8" font-weight="bold">Malaysia</text>
<text x="453" y="116" font-size="9.9" font-weight="bold">35</text>
<text x="397" y="138.2" font-size="9.8" font-weight="bold">Indonesia</text>
<text x="474" y="135" font-size="9.9" font-weight="bold">59</text>
<text x="346.6" y="155.3" font-size="8.55" font-weight="bold">Produced Palm Oil (MTon) average 1993-2019</text>
<rect x="346.8" y="162.6" width="11.7" height="6.2" fill="#e5f6d0" stroke="#8a8a8a" stroke-width=".5"/>
<text x="365.4" y="168.8" font-size="8.3">&lt;0 - 0.1</text>
<rect x="346.8" y="171.4" width="11.7" height="6.2" fill="#b3e2b9" stroke="#8a8a8a" stroke-width=".5"/>
<text x="365.4" y="177.6" font-size="8.3">0.1 - 0.5</text>
<rect x="346.8" y="180.3" width="11.7" height="6.2" fill="#7bccc5" stroke="#8a8a8a" stroke-width=".5"/>
<text x="365.4" y="186.5" font-size="8.3">0.5 - 1</text>
<rect x="346.8" y="189.1" width="11.7" height="6.2" fill="#43a0cc" stroke="#8a8a8a" stroke-width=".5"/>
<text x="365.4" y="195.3" font-size="8.3">1 - 1.5</text>
<rect x="346.8" y="198.0" width="11.7" height="6.2" fill="#0868b0" stroke="#8a8a8a" stroke-width=".5"/>
<text x="365.4" y="204.2" font-size="8.3">1.5 - 40.5</text>
</g>
<!-- connector lines -->
<path d="M63.5 207.2L1.5 235.4M123.1 207.2L184.6 235.4M259.6 207.2L197.4 235.4M317 207.2L379.8 235.4M454.3 207.2L391.3 235.4M510.7 207.2L573.6 235.4" stroke="#111" stroke-width="1.15" fill="none"/>
<!-- panels -->
<g fill="none" stroke="#d6d6d6" stroke-width="1.2">
<rect x="1.5" y="235.6" width="183.1" height="113.7"/>
<rect x="197.2" y="235.6" width="182.6" height="113.7"/>
<rect x="391.1" y="235.6" width="182.2" height="113.7"/>
</g>
<text x="5.2" y="249.6" font-size="12" font-weight="bold">B</text>
<text x="200.3" y="249.6" font-size="12" font-weight="bold">C</text>
<text x="395.6" y="249.6" font-size="12" font-weight="bold">D</text>
<text x="103.8" y="246.3" font-size="9.1" font-weight="bold" text-anchor="middle">Neotropics</text>
<text x="299" y="246.3" font-size="9.1" font-weight="bold" text-anchor="middle">Afrotropics</text>
<text x="492.3" y="246.3" font-size="9.05" font-weight="bold" text-anchor="middle">Indo-Malay and Australasia</text>
<text transform="translate(12.9 295.5) rotate(-90)" font-size="7.3" text-anchor="middle" fill="#222">number of papers</text>
<path d="M26.3 250.1V341.0" stroke="#555" stroke-width=".6" fill="none"/>
<path d="M26.3 341.0h-2.9M26.3 318.4h-2.9M26.3 295.9h-2.9M26.3 273.4h-2.9M26.3 250.8h-2.9" stroke="#555" stroke-width=".6" fill="none"/>
<text transform="translate(20.1 341.0) rotate(-90)" font-size="4.8" text-anchor="middle" fill="#333">0</text>
<text transform="translate(20.1 318.4) rotate(-90)" font-size="4.8" text-anchor="middle" fill="#333">10</text>
<text transform="translate(20.1 295.9) rotate(-90)" font-size="4.8" text-anchor="middle" fill="#333">20</text>
<text transform="translate(20.1 273.4) rotate(-90)" font-size="4.8" text-anchor="middle" fill="#333">30</text>
<text transform="translate(20.1 250.8) rotate(-90)" font-size="4.8" text-anchor="middle" fill="#333">40</text>
<rect x="32.1" y="262.1" width="30.8" height="78.9" fill="#009E73"/>
<text x="47.5" y="260.4" font-size="7.4" text-anchor="middle" fill="#111">35</text>
<rect x="69.7" y="327.5" width="30.8" height="13.5" fill="#E69F00"/>
<text x="85.1" y="325.8" font-size="7.4" text-anchor="middle" fill="#111">6</text>
<rect x="107.3" y="323.0" width="30.8" height="18.0" fill="#0072B2"/>
<text x="122.7" y="321.3" font-size="7.4" text-anchor="middle" fill="#111">8</text>
<rect x="145.0" y="325.2" width="30.8" height="15.8" fill="#D55E00"/>
<text x="160.4" y="323.5" font-size="7.4" text-anchor="middle" fill="#111">7</text>
<path d="M221.1 250.1V341.0" stroke="#555" stroke-width=".6" fill="none"/>
<path d="M221.1 341.0h-2.9M221.1 318.4h-2.9M221.1 295.9h-2.9M221.1 273.4h-2.9M221.1 250.8h-2.9" stroke="#555" stroke-width=".6" fill="none"/>
<text transform="translate(214.9 341.0) rotate(-90)" font-size="4.8" text-anchor="middle" fill="#333">0</text>
<text transform="translate(214.9 318.4) rotate(-90)" font-size="4.8" text-anchor="middle" fill="#333">10</text>
<text transform="translate(214.9 295.9) rotate(-90)" font-size="4.8" text-anchor="middle" fill="#333">20</text>
<text transform="translate(214.9 273.4) rotate(-90)" font-size="4.8" text-anchor="middle" fill="#333">30</text>
<text transform="translate(214.9 250.8) rotate(-90)" font-size="4.8" text-anchor="middle" fill="#333">40</text>
<rect x="227.4" y="323.0" width="30.8" height="18.0" fill="#009E73"/>
<text x="242.8" y="321.3" font-size="7.4" text-anchor="middle" fill="#111">8</text>
<rect x="265.0" y="323.0" width="30.8" height="18.0" fill="#E69F00"/>
<text x="280.4" y="321.3" font-size="7.4" text-anchor="middle" fill="#111">8</text>
<rect x="302.6" y="341.0" width="30.8" height="0.0" fill="#0072B2"/>
<text x="318.0" y="339.3" font-size="7.4" text-anchor="middle" fill="#111">0</text>
<rect x="340.3" y="338.7" width="30.8" height="2.3" fill="#D55E00"/>
<text x="355.7" y="337.0" font-size="7.4" text-anchor="middle" fill="#111">1</text>
<path d="M414.4 250.1V341.0" stroke="#555" stroke-width=".6" fill="none"/>
<path d="M414.4 341.0h-2.9M414.4 318.4h-2.9M414.4 295.9h-2.9M414.4 273.4h-2.9M414.4 250.8h-2.9" stroke="#555" stroke-width=".6" fill="none"/>
<text transform="translate(408.2 341.0) rotate(-90)" font-size="4.8" text-anchor="middle" fill="#333">0</text>
<text transform="translate(408.2 318.4) rotate(-90)" font-size="4.8" text-anchor="middle" fill="#333">10</text>
<text transform="translate(408.2 295.9) rotate(-90)" font-size="4.8" text-anchor="middle" fill="#333">20</text>
<text transform="translate(408.2 273.4) rotate(-90)" font-size="4.8" text-anchor="middle" fill="#333">30</text>
<text transform="translate(408.2 250.8) rotate(-90)" font-size="4.8" text-anchor="middle" fill="#333">40</text>
<rect x="421.3" y="257.6" width="30.8" height="83.4" fill="#009E73"/>
<text x="436.7" y="255.9" font-size="7.4" text-anchor="middle" fill="#111">37</text>
<rect x="458.9" y="273.4" width="30.8" height="67.6" fill="#E69F00"/>
<text x="474.3" y="271.7" font-size="7.4" text-anchor="middle" fill="#111">30</text>
<rect x="496.5" y="268.8" width="30.8" height="72.2" fill="#0072B2"/>
<text x="511.9" y="267.1" font-size="7.4" text-anchor="middle" fill="#111">32</text>
<rect x="534.2" y="275.6" width="30.8" height="65.4" fill="#D55E00"/>
<text x="549.6" y="273.9" font-size="7.4" text-anchor="middle" fill="#111">29</text>
<!-- bottom legend -->
<g font-size="9.15">
<rect x="129.7" y="360.2" width="9.9" height="5.9" fill="#009E73"/><text x="144" y="366">Oil Palm distribution</text>
<rect x="232.6" y="360.2" width="9.7" height="5.9" fill="#E69F00"/><text x="246.3" y="366">Land-Atmosphere processes</text>
<rect x="367.4" y="360.2" width="9.7" height="5.9" fill="#0072B2"/><text x="381.7" y="366">Fluvial processes</text>
<rect x="458.5" y="360.2" width="9.8" height="5.9" fill="#D55E00"/><text x="473.3" y="366">Soils and Groundwater</text>
</g>
</svg>
</body></html>
